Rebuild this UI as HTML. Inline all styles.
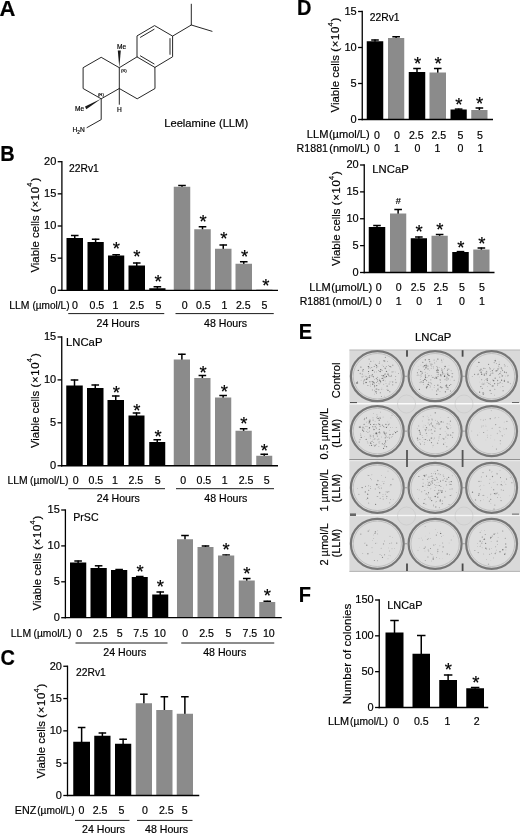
<!DOCTYPE html>
<html><head><meta charset="utf-8"><title>Figure</title>
<style>html,body{margin:0;padding:0;background:#fff}svg{display:block}text{stroke:#000;stroke-width:.18px}</style></head>
<body><svg width="520" height="834" viewBox="0 0 520 834" font-family="'Liberation Sans', sans-serif" fill="#000">
<defs><filter id="blur" x="-2%" y="-2%" width="104%" height="104%"><feGaussianBlur stdDeviation="0.55"/></filter></defs>
<rect width="520" height="834" fill="#fff"/>
<text x="-0.40" y="15.70" font-size="22" text-anchor="start" font-weight="bold">A</text>
<text transform="translate(0.2,160.7) scale(1,1.06)" font-size="20" font-weight="bold">B</text>
<text transform="translate(0.6,665.1) scale(1,1.06)" font-size="20" font-weight="bold">C</text>
<text transform="translate(297.0,14.7) scale(1,1.06)" font-size="20" font-weight="bold">D</text>
<text transform="translate(298.8,338.9) scale(1,1.06)" font-size="20" font-weight="bold">E</text>
<text transform="translate(298.8,602) scale(1,1.06)" font-size="20" font-weight="bold">F</text>
<line x1="74.75" y1="238.50" x2="74.75" y2="235.00" stroke="#000" stroke-width="1.5"/>
<line x1="70.95" y1="235.50" x2="78.55" y2="235.50" stroke="#000" stroke-width="1.5"/>
<rect x="66.50" y="238.00" width="16.50" height="52.30" fill="#000"/>
<line x1="95.62" y1="242.50" x2="95.62" y2="238.75" stroke="#000" stroke-width="1.5"/>
<line x1="91.83" y1="239.25" x2="99.42" y2="239.25" stroke="#000" stroke-width="1.5"/>
<rect x="87.50" y="242.00" width="16.25" height="48.30" fill="#000"/>
<line x1="116.12" y1="256.00" x2="116.12" y2="254.25" stroke="#000" stroke-width="1.5"/>
<line x1="112.33" y1="254.75" x2="119.92" y2="254.75" stroke="#000" stroke-width="1.5"/>
<rect x="108.00" y="255.50" width="16.25" height="34.80" fill="#000"/>
<text x="116.25" y="255.21" font-size="18.5" stroke="#000" stroke-width="0.35" text-anchor="middle">*</text>
<line x1="136.75" y1="266.00" x2="136.75" y2="262.50" stroke="#000" stroke-width="1.5"/>
<line x1="132.95" y1="263.00" x2="140.55" y2="263.00" stroke="#000" stroke-width="1.5"/>
<rect x="128.50" y="265.50" width="16.50" height="24.80" fill="#000"/>
<text x="136.75" y="262.96" font-size="18.5" stroke="#000" stroke-width="0.35" text-anchor="middle">*</text>
<line x1="157.38" y1="288.75" x2="157.38" y2="286.25" stroke="#000" stroke-width="1.5"/>
<line x1="153.57" y1="286.75" x2="161.18" y2="286.75" stroke="#000" stroke-width="1.5"/>
<rect x="149.25" y="288.25" width="16.25" height="2.05" fill="#000"/>
<text x="158.00" y="288.21" font-size="18.5" stroke="#000" stroke-width="0.35" text-anchor="middle">*</text>
<line x1="182.00" y1="187.25" x2="182.00" y2="185.00" stroke="#000" stroke-width="1.5"/>
<line x1="178.20" y1="185.50" x2="185.80" y2="185.50" stroke="#000" stroke-width="1.5"/>
<rect x="173.75" y="186.75" width="16.50" height="103.55" fill="#8b8b8b"/>
<line x1="202.50" y1="229.75" x2="202.50" y2="226.25" stroke="#000" stroke-width="1.5"/>
<line x1="198.70" y1="226.75" x2="206.30" y2="226.75" stroke="#000" stroke-width="1.5"/>
<rect x="194.25" y="229.25" width="16.50" height="61.05" fill="#8b8b8b"/>
<text x="203.00" y="228.21" font-size="18.5" stroke="#000" stroke-width="0.35" text-anchor="middle">*</text>
<line x1="223.25" y1="249.25" x2="223.25" y2="244.50" stroke="#000" stroke-width="1.5"/>
<line x1="219.45" y1="245.00" x2="227.05" y2="245.00" stroke="#000" stroke-width="1.5"/>
<rect x="215.00" y="248.75" width="16.50" height="41.55" fill="#8b8b8b"/>
<text x="223.75" y="245.21" font-size="18.5" stroke="#000" stroke-width="0.35" text-anchor="middle">*</text>
<line x1="243.75" y1="264.25" x2="243.75" y2="261.25" stroke="#000" stroke-width="1.5"/>
<line x1="239.95" y1="261.75" x2="247.55" y2="261.75" stroke="#000" stroke-width="1.5"/>
<rect x="235.50" y="263.75" width="16.50" height="26.55" fill="#8b8b8b"/>
<text x="244.50" y="263.21" font-size="18.5" stroke="#000" stroke-width="0.35" text-anchor="middle">*</text>
<rect x="256.25" y="289.60" width="16.25" height="0.70" fill="#8b8b8b"/>
<text x="265.75" y="292.21" font-size="18.5" stroke="#000" stroke-width="0.35" text-anchor="middle">*</text>
<line x1="61.90" y1="161.05" x2="61.90" y2="290.95" stroke="#000" stroke-width="1.3"/>
<line x1="61.25" y1="290.30" x2="278.00" y2="290.30" stroke="#000" stroke-width="1.3"/>
<line x1="57.70" y1="161.70" x2="61.90" y2="161.70" stroke="#000" stroke-width="1.3"/>
<text x="56.30" y="165.05" font-size="11" text-anchor="end">20</text>
<line x1="57.70" y1="193.85" x2="61.90" y2="193.85" stroke="#000" stroke-width="1.3"/>
<text x="56.30" y="197.20" font-size="11" text-anchor="end">15</text>
<line x1="57.70" y1="226.00" x2="61.90" y2="226.00" stroke="#000" stroke-width="1.3"/>
<text x="56.30" y="229.35" font-size="11" text-anchor="end">10</text>
<line x1="57.70" y1="258.15" x2="61.90" y2="258.15" stroke="#000" stroke-width="1.3"/>
<text x="56.30" y="261.50" font-size="11" text-anchor="end">5</text>
<line x1="57.70" y1="290.30" x2="61.90" y2="290.30" stroke="#000" stroke-width="1.3"/>
<text x="56.30" y="293.65" font-size="11" text-anchor="end">0</text>
<text transform="translate(38.50,225.20) rotate(-90)" font-size="11.4" text-anchor="middle">Viable cells <tspan letter-spacing="0.7">(×10</tspan><tspan dy="-6.4" dx="-0.6" font-size="7.6">4</tspan><tspan dy="6.4" dx="0.9">)</tspan></text>
<text x="69.00" y="171.50" font-size="10.3" text-anchor="start">22Rv1</text>
<text x="75.00" y="309.20" font-size="10.6" text-anchor="middle">0</text>
<text x="96.90" y="309.20" font-size="10.6" text-anchor="middle">0.5</text>
<text x="115.40" y="309.20" font-size="10.6" text-anchor="middle">1</text>
<text x="136.75" y="309.20" font-size="10.6" text-anchor="middle">2.5</text>
<text x="158.40" y="309.20" font-size="10.6" text-anchor="middle">5</text>
<text x="184.80" y="309.20" font-size="10.6" text-anchor="middle">0</text>
<text x="203.40" y="309.20" font-size="10.6" text-anchor="middle">0.5</text>
<text x="224.50" y="309.20" font-size="10.6" text-anchor="middle">1</text>
<text x="243.25" y="309.20" font-size="10.6" text-anchor="middle">2.5</text>
<text x="264.50" y="309.20" font-size="10.6" text-anchor="middle">5</text>
<text x="9.30" y="309.10" font-size="10.6" textLength="20.25" lengthAdjust="spacingAndGlyphs">LLM</text>
<text x="32.40" y="309.10" font-size="10.6" textLength="37.15" lengthAdjust="spacingAndGlyphs">(µmol/L)</text>
<line x1="68.25" y1="313.60" x2="164.25" y2="313.60" stroke="#000" stroke-width="0.9"/>
<line x1="175.50" y1="313.60" x2="273.75" y2="313.60" stroke="#000" stroke-width="0.9"/>
<text x="118.00" y="326.80" font-size="10.6" text-anchor="middle">24 Hours</text>
<text x="225.50" y="326.80" font-size="10.6" text-anchor="middle">48 Hours</text>
<line x1="74.50" y1="386.00" x2="74.50" y2="379.50" stroke="#000" stroke-width="1.5"/>
<line x1="70.70" y1="380.00" x2="78.30" y2="380.00" stroke="#000" stroke-width="1.5"/>
<rect x="66.25" y="385.50" width="16.50" height="80.25" fill="#000"/>
<line x1="95.25" y1="388.50" x2="95.25" y2="384.50" stroke="#000" stroke-width="1.5"/>
<line x1="91.45" y1="385.00" x2="99.05" y2="385.00" stroke="#000" stroke-width="1.5"/>
<rect x="87.00" y="388.00" width="16.50" height="77.75" fill="#000"/>
<line x1="115.75" y1="400.50" x2="115.75" y2="395.50" stroke="#000" stroke-width="1.5"/>
<line x1="111.95" y1="396.00" x2="119.55" y2="396.00" stroke="#000" stroke-width="1.5"/>
<rect x="107.50" y="400.00" width="16.50" height="65.75" fill="#000"/>
<text x="116.25" y="399.21" font-size="18.5" stroke="#000" stroke-width="0.35" text-anchor="middle">*</text>
<line x1="136.50" y1="416.00" x2="136.50" y2="412.50" stroke="#000" stroke-width="1.5"/>
<line x1="132.70" y1="413.00" x2="140.30" y2="413.00" stroke="#000" stroke-width="1.5"/>
<rect x="128.50" y="415.50" width="16.00" height="50.25" fill="#000"/>
<text x="136.75" y="416.71" font-size="18.5" stroke="#000" stroke-width="0.35" text-anchor="middle">*</text>
<line x1="157.25" y1="442.50" x2="157.25" y2="439.25" stroke="#000" stroke-width="1.5"/>
<line x1="153.45" y1="439.75" x2="161.05" y2="439.75" stroke="#000" stroke-width="1.5"/>
<rect x="149.25" y="442.00" width="16.00" height="23.75" fill="#000"/>
<text x="158.00" y="442.96" font-size="18.5" stroke="#000" stroke-width="0.35" text-anchor="middle">*</text>
<line x1="181.88" y1="360.00" x2="181.88" y2="353.75" stroke="#000" stroke-width="1.5"/>
<line x1="178.07" y1="354.25" x2="185.68" y2="354.25" stroke="#000" stroke-width="1.5"/>
<rect x="173.75" y="359.50" width="16.25" height="106.25" fill="#8b8b8b"/>
<line x1="202.38" y1="378.50" x2="202.38" y2="375.00" stroke="#000" stroke-width="1.5"/>
<line x1="198.57" y1="375.50" x2="206.18" y2="375.50" stroke="#000" stroke-width="1.5"/>
<rect x="194.25" y="378.00" width="16.25" height="87.75" fill="#8b8b8b"/>
<text x="203.00" y="378.71" font-size="18.5" stroke="#000" stroke-width="0.35" text-anchor="middle">*</text>
<line x1="223.12" y1="398.00" x2="223.12" y2="395.00" stroke="#000" stroke-width="1.5"/>
<line x1="219.32" y1="395.50" x2="226.93" y2="395.50" stroke="#000" stroke-width="1.5"/>
<rect x="215.00" y="397.50" width="16.25" height="68.25" fill="#8b8b8b"/>
<text x="224.25" y="398.21" font-size="18.5" stroke="#000" stroke-width="0.35" text-anchor="middle">*</text>
<line x1="243.62" y1="431.25" x2="243.62" y2="428.25" stroke="#000" stroke-width="1.5"/>
<line x1="239.82" y1="428.75" x2="247.43" y2="428.75" stroke="#000" stroke-width="1.5"/>
<rect x="235.50" y="430.75" width="16.25" height="35.00" fill="#8b8b8b"/>
<text x="243.75" y="430.46" font-size="18.5" stroke="#000" stroke-width="0.35" text-anchor="middle">*</text>
<line x1="264.25" y1="456.25" x2="264.25" y2="453.75" stroke="#000" stroke-width="1.5"/>
<line x1="260.45" y1="454.25" x2="268.05" y2="454.25" stroke="#000" stroke-width="1.5"/>
<rect x="256.25" y="455.75" width="16.00" height="10.00" fill="#8b8b8b"/>
<text x="264.25" y="456.71" font-size="18.5" stroke="#000" stroke-width="0.35" text-anchor="middle">*</text>
<line x1="61.75" y1="336.35" x2="61.75" y2="466.40" stroke="#000" stroke-width="1.3"/>
<line x1="61.10" y1="465.75" x2="278.00" y2="465.75" stroke="#000" stroke-width="1.3"/>
<line x1="57.55" y1="337.00" x2="61.75" y2="337.00" stroke="#000" stroke-width="1.3"/>
<text x="56.15" y="340.35" font-size="11" text-anchor="end">15</text>
<line x1="57.55" y1="379.90" x2="61.75" y2="379.90" stroke="#000" stroke-width="1.3"/>
<text x="56.15" y="383.25" font-size="11" text-anchor="end">10</text>
<line x1="57.55" y1="422.80" x2="61.75" y2="422.80" stroke="#000" stroke-width="1.3"/>
<text x="56.15" y="426.15" font-size="11" text-anchor="end">5</text>
<line x1="57.55" y1="465.75" x2="61.75" y2="465.75" stroke="#000" stroke-width="1.3"/>
<text x="56.15" y="469.10" font-size="11" text-anchor="end">0</text>
<text transform="translate(38.50,400.70) rotate(-90)" font-size="11.4" text-anchor="middle">Viable cells <tspan letter-spacing="0.7">(×10</tspan><tspan dy="-6.4" dx="-0.6" font-size="7.6">4</tspan><tspan dy="6.4" dx="0.9">)</tspan></text>
<text x="66.00" y="345.60" font-size="11.3" text-anchor="start">LNCaP</text>
<text x="75.60" y="483.90" font-size="10.6" text-anchor="middle">0</text>
<text x="95.90" y="483.90" font-size="10.6" text-anchor="middle">0.5</text>
<text x="114.90" y="483.90" font-size="10.6" text-anchor="middle">1</text>
<text x="135.80" y="483.90" font-size="10.6" text-anchor="middle">2.5</text>
<text x="157.60" y="483.90" font-size="10.6" text-anchor="middle">5</text>
<text x="183.30" y="483.90" font-size="10.6" text-anchor="middle">0</text>
<text x="203.90" y="483.90" font-size="10.6" text-anchor="middle">0.5</text>
<text x="224.70" y="483.90" font-size="10.6" text-anchor="middle">1</text>
<text x="246.10" y="483.90" font-size="10.6" text-anchor="middle">2.5</text>
<text x="266.80" y="483.90" font-size="10.6" text-anchor="middle">5</text>
<text x="7.40" y="483.90" font-size="10.6" textLength="20.20" lengthAdjust="spacingAndGlyphs">LLM</text>
<text x="30.10" y="483.90" font-size="10.6" textLength="38.30" lengthAdjust="spacingAndGlyphs">(µmol/L)</text>
<line x1="68.40" y1="488.70" x2="165.00" y2="488.70" stroke="#000" stroke-width="0.9"/>
<line x1="176.00" y1="488.70" x2="274.00" y2="488.70" stroke="#000" stroke-width="0.9"/>
<text x="118.30" y="501.80" font-size="10.6" text-anchor="middle">24 Hours</text>
<text x="225.80" y="501.80" font-size="10.6" text-anchor="middle">48 Hours</text>
<line x1="78.12" y1="563.00" x2="78.12" y2="560.50" stroke="#000" stroke-width="1.5"/>
<line x1="74.33" y1="561.00" x2="81.92" y2="561.00" stroke="#000" stroke-width="1.5"/>
<rect x="70.00" y="562.50" width="16.25" height="55.20" fill="#000"/>
<line x1="98.62" y1="568.50" x2="98.62" y2="565.30" stroke="#000" stroke-width="1.5"/>
<line x1="94.83" y1="565.80" x2="102.42" y2="565.80" stroke="#000" stroke-width="1.5"/>
<rect x="90.50" y="568.00" width="16.25" height="49.70" fill="#000"/>
<line x1="119.12" y1="570.50" x2="119.12" y2="569.00" stroke="#000" stroke-width="1.5"/>
<line x1="115.33" y1="569.50" x2="122.92" y2="569.50" stroke="#000" stroke-width="1.5"/>
<rect x="111.00" y="570.00" width="16.25" height="47.70" fill="#000"/>
<line x1="139.75" y1="577.50" x2="139.75" y2="576.00" stroke="#000" stroke-width="1.5"/>
<line x1="135.95" y1="576.50" x2="143.55" y2="576.50" stroke="#000" stroke-width="1.5"/>
<rect x="131.75" y="577.00" width="16.00" height="40.70" fill="#000"/>
<text x="140.00" y="577.96" font-size="18.5" stroke="#000" stroke-width="0.35" text-anchor="middle">*</text>
<line x1="160.25" y1="595.00" x2="160.25" y2="591.50" stroke="#000" stroke-width="1.5"/>
<line x1="156.45" y1="592.00" x2="164.05" y2="592.00" stroke="#000" stroke-width="1.5"/>
<rect x="152.25" y="594.50" width="16.00" height="23.20" fill="#000"/>
<text x="160.25" y="592.96" font-size="18.5" stroke="#000" stroke-width="0.35" text-anchor="middle">*</text>
<line x1="185.00" y1="539.75" x2="185.00" y2="535.00" stroke="#000" stroke-width="1.5"/>
<line x1="181.20" y1="535.50" x2="188.80" y2="535.50" stroke="#000" stroke-width="1.5"/>
<rect x="177.00" y="539.25" width="16.00" height="78.45" fill="#8b8b8b"/>
<line x1="205.50" y1="547.50" x2="205.50" y2="545.50" stroke="#000" stroke-width="1.5"/>
<line x1="201.70" y1="546.00" x2="209.30" y2="546.00" stroke="#000" stroke-width="1.5"/>
<rect x="197.50" y="547.00" width="16.00" height="70.70" fill="#8b8b8b"/>
<line x1="226.12" y1="556.00" x2="226.12" y2="554.50" stroke="#000" stroke-width="1.5"/>
<line x1="222.32" y1="555.00" x2="229.93" y2="555.00" stroke="#000" stroke-width="1.5"/>
<rect x="218.00" y="555.50" width="16.25" height="62.20" fill="#8b8b8b"/>
<text x="226.00" y="556.21" font-size="18.5" stroke="#000" stroke-width="0.35" text-anchor="middle">*</text>
<line x1="246.75" y1="581.00" x2="246.75" y2="578.00" stroke="#000" stroke-width="1.5"/>
<line x1="242.95" y1="578.50" x2="250.55" y2="578.50" stroke="#000" stroke-width="1.5"/>
<rect x="238.75" y="580.50" width="16.00" height="37.20" fill="#8b8b8b"/>
<text x="246.75" y="579.96" font-size="18.5" stroke="#000" stroke-width="0.35" text-anchor="middle">*</text>
<line x1="267.25" y1="602.50" x2="267.25" y2="600.75" stroke="#000" stroke-width="1.5"/>
<line x1="263.45" y1="601.25" x2="271.05" y2="601.25" stroke="#000" stroke-width="1.5"/>
<rect x="259.25" y="602.00" width="16.00" height="15.70" fill="#8b8b8b"/>
<text x="267.25" y="602.21" font-size="18.5" stroke="#000" stroke-width="0.35" text-anchor="middle">*</text>
<line x1="65.40" y1="509.35" x2="65.40" y2="618.35" stroke="#000" stroke-width="1.3"/>
<line x1="64.75" y1="617.70" x2="281.75" y2="617.70" stroke="#000" stroke-width="1.3"/>
<line x1="61.20" y1="510.00" x2="65.40" y2="510.00" stroke="#000" stroke-width="1.3"/>
<text x="59.80" y="513.35" font-size="11" text-anchor="end">15</text>
<line x1="61.20" y1="545.90" x2="65.40" y2="545.90" stroke="#000" stroke-width="1.3"/>
<text x="59.80" y="549.25" font-size="11" text-anchor="end">10</text>
<line x1="61.20" y1="581.80" x2="65.40" y2="581.80" stroke="#000" stroke-width="1.3"/>
<text x="59.80" y="585.15" font-size="11" text-anchor="end">5</text>
<line x1="61.20" y1="617.70" x2="65.40" y2="617.70" stroke="#000" stroke-width="1.3"/>
<text x="59.80" y="621.05" font-size="11" text-anchor="end">0</text>
<text transform="translate(41.00,563.00) rotate(-90)" font-size="11.4" text-anchor="middle">Viable cells <tspan letter-spacing="0.7">(×10</tspan><tspan dy="-6.4" dx="-0.6" font-size="7.6">4</tspan><tspan dy="6.4" dx="0.9">)</tspan></text>
<text x="73.25" y="521.25" font-size="10.6" text-anchor="start">PrSC</text>
<text x="79.30" y="636.85" font-size="10.6" text-anchor="middle">0</text>
<text x="100.40" y="636.85" font-size="10.6" text-anchor="middle">2.5</text>
<text x="119.80" y="636.85" font-size="10.6" text-anchor="middle">5</text>
<text x="140.70" y="636.85" font-size="10.6" text-anchor="middle">7.5</text>
<text x="160.00" y="636.85" font-size="10.6" text-anchor="middle">10</text>
<text x="185.20" y="636.85" font-size="10.6" text-anchor="middle">0</text>
<text x="206.50" y="636.85" font-size="10.6" text-anchor="middle">2.5</text>
<text x="228.40" y="636.85" font-size="10.6" text-anchor="middle">5</text>
<text x="249.90" y="636.85" font-size="10.6" text-anchor="middle">7.5</text>
<text x="268.80" y="636.85" font-size="10.6" text-anchor="middle">10</text>
<text x="10.80" y="636.80" font-size="10.6" textLength="20.30" lengthAdjust="spacingAndGlyphs">LLM</text>
<text x="33.50" y="636.80" font-size="10.6" textLength="38.00" lengthAdjust="spacingAndGlyphs">(µmol/L)</text>
<line x1="75.50" y1="643.00" x2="167.50" y2="643.00" stroke="#000" stroke-width="0.9"/>
<line x1="181.25" y1="643.00" x2="274.25" y2="643.00" stroke="#000" stroke-width="0.9"/>
<text x="124.80" y="655.50" font-size="10.6" text-anchor="middle">24 Hours</text>
<text x="224.70" y="655.50" font-size="10.6" text-anchor="middle">48 Hours</text>
<line x1="81.62" y1="742.25" x2="81.62" y2="727.00" stroke="#000" stroke-width="1.5"/>
<line x1="77.83" y1="727.50" x2="85.42" y2="727.50" stroke="#000" stroke-width="1.5"/>
<rect x="73.25" y="741.75" width="16.75" height="53.75" fill="#000"/>
<line x1="102.38" y1="736.25" x2="102.38" y2="732.50" stroke="#000" stroke-width="1.5"/>
<line x1="98.58" y1="733.00" x2="106.17" y2="733.00" stroke="#000" stroke-width="1.5"/>
<rect x="94.25" y="735.75" width="16.25" height="59.75" fill="#000"/>
<line x1="123.12" y1="744.25" x2="123.12" y2="738.75" stroke="#000" stroke-width="1.5"/>
<line x1="119.33" y1="739.25" x2="126.92" y2="739.25" stroke="#000" stroke-width="1.5"/>
<rect x="115.00" y="743.75" width="16.25" height="51.75" fill="#000"/>
<line x1="143.88" y1="703.75" x2="143.88" y2="693.75" stroke="#000" stroke-width="1.5"/>
<line x1="140.07" y1="694.25" x2="147.68" y2="694.25" stroke="#000" stroke-width="1.5"/>
<rect x="135.75" y="703.25" width="16.25" height="92.25" fill="#8b8b8b"/>
<line x1="164.38" y1="710.50" x2="164.38" y2="696.25" stroke="#000" stroke-width="1.5"/>
<line x1="160.57" y1="696.75" x2="168.18" y2="696.75" stroke="#000" stroke-width="1.5"/>
<rect x="156.25" y="710.00" width="16.25" height="85.50" fill="#8b8b8b"/>
<line x1="184.88" y1="714.25" x2="184.88" y2="696.25" stroke="#000" stroke-width="1.5"/>
<line x1="181.07" y1="696.75" x2="188.68" y2="696.75" stroke="#000" stroke-width="1.5"/>
<rect x="176.75" y="713.75" width="16.25" height="81.75" fill="#8b8b8b"/>
<line x1="67.50" y1="665.60" x2="67.50" y2="796.15" stroke="#000" stroke-width="1.3"/>
<line x1="66.85" y1="795.50" x2="199.25" y2="795.50" stroke="#000" stroke-width="1.3"/>
<line x1="63.30" y1="666.25" x2="67.50" y2="666.25" stroke="#000" stroke-width="1.3"/>
<text x="61.90" y="669.60" font-size="11" text-anchor="end">20</text>
<line x1="63.30" y1="698.55" x2="67.50" y2="698.55" stroke="#000" stroke-width="1.3"/>
<text x="61.90" y="701.90" font-size="11" text-anchor="end">15</text>
<line x1="63.30" y1="730.85" x2="67.50" y2="730.85" stroke="#000" stroke-width="1.3"/>
<text x="61.90" y="734.20" font-size="11" text-anchor="end">10</text>
<line x1="63.30" y1="763.15" x2="67.50" y2="763.15" stroke="#000" stroke-width="1.3"/>
<text x="61.90" y="766.50" font-size="11" text-anchor="end">5</text>
<line x1="63.30" y1="795.50" x2="67.50" y2="795.50" stroke="#000" stroke-width="1.3"/>
<text x="61.90" y="798.85" font-size="11" text-anchor="end">0</text>
<text transform="translate(44.90,731.00) rotate(-90)" font-size="11.4" text-anchor="middle">Viable cells <tspan letter-spacing="0.7">(×10</tspan><tspan dy="-6.4" dx="-0.6" font-size="7.6">4</tspan><tspan dy="6.4" dx="0.9">)</tspan></text>
<text x="76.00" y="676.40" font-size="10.3" text-anchor="start">22Rv1</text>
<text x="81.40" y="813.70" font-size="10.6" text-anchor="middle">0</text>
<text x="100.00" y="813.70" font-size="10.6" text-anchor="middle">2.5</text>
<text x="121.50" y="813.70" font-size="10.6" text-anchor="middle">5</text>
<text x="144.90" y="813.70" font-size="10.6" text-anchor="middle">0</text>
<text x="166.30" y="813.70" font-size="10.6" text-anchor="middle">2.5</text>
<text x="184.70" y="813.70" font-size="10.6" text-anchor="middle">5</text>
<text x="14.70" y="813.60" font-size="10.6" textLength="21.60" lengthAdjust="spacingAndGlyphs">ENZ</text>
<text x="37.20" y="813.60" font-size="10.6" textLength="37.50" lengthAdjust="spacingAndGlyphs">(µmol/L)</text>
<line x1="75.00" y1="820.40" x2="129.50" y2="820.40" stroke="#000" stroke-width="0.9"/>
<line x1="137.00" y1="820.40" x2="192.50" y2="820.40" stroke="#000" stroke-width="0.9"/>
<text x="103.50" y="833.00" font-size="10.6" text-anchor="middle">24 Hours</text>
<text x="166.50" y="833.00" font-size="10.6" text-anchor="middle">48 Hours</text>
<line x1="375.00" y1="41.75" x2="375.00" y2="39.50" stroke="#000" stroke-width="1.5"/>
<line x1="371.20" y1="40.00" x2="378.80" y2="40.00" stroke="#000" stroke-width="1.5"/>
<rect x="366.75" y="41.25" width="16.50" height="78.25" fill="#000"/>
<line x1="396.12" y1="38.50" x2="396.12" y2="36.25" stroke="#000" stroke-width="1.5"/>
<line x1="392.32" y1="36.75" x2="399.93" y2="36.75" stroke="#000" stroke-width="1.5"/>
<rect x="388.00" y="38.00" width="16.25" height="81.50" fill="#8b8b8b"/>
<line x1="417.00" y1="72.50" x2="417.00" y2="68.00" stroke="#000" stroke-width="1.5"/>
<line x1="413.20" y1="68.50" x2="420.80" y2="68.50" stroke="#000" stroke-width="1.5"/>
<rect x="408.75" y="72.00" width="16.50" height="47.50" fill="#000"/>
<text x="417.50" y="69.96" font-size="18.5" stroke="#000" stroke-width="0.35" text-anchor="middle">*</text>
<line x1="437.75" y1="73.00" x2="437.75" y2="68.00" stroke="#000" stroke-width="1.5"/>
<line x1="433.95" y1="68.50" x2="441.55" y2="68.50" stroke="#000" stroke-width="1.5"/>
<rect x="429.50" y="72.50" width="16.50" height="47.00" fill="#8b8b8b"/>
<text x="438.00" y="69.96" font-size="18.5" stroke="#000" stroke-width="0.35" text-anchor="middle">*</text>
<line x1="458.62" y1="110.00" x2="458.62" y2="108.60" stroke="#000" stroke-width="1.5"/>
<line x1="454.82" y1="109.10" x2="462.43" y2="109.10" stroke="#000" stroke-width="1.5"/>
<rect x="450.50" y="109.50" width="16.25" height="10.00" fill="#000"/>
<text x="458.75" y="110.96" font-size="18.5" stroke="#000" stroke-width="0.35" text-anchor="middle">*</text>
<line x1="479.38" y1="110.50" x2="479.38" y2="107.50" stroke="#000" stroke-width="1.5"/>
<line x1="475.57" y1="108.00" x2="483.18" y2="108.00" stroke="#000" stroke-width="1.5"/>
<rect x="471.25" y="110.00" width="16.25" height="9.50" fill="#8b8b8b"/>
<text x="479.50" y="109.96" font-size="18.5" stroke="#000" stroke-width="0.35" text-anchor="middle">*</text>
<line x1="362.25" y1="10.85" x2="362.25" y2="120.15" stroke="#000" stroke-width="1.3"/>
<line x1="361.60" y1="119.50" x2="493.00" y2="119.50" stroke="#000" stroke-width="1.3"/>
<line x1="358.05" y1="11.50" x2="362.25" y2="11.50" stroke="#000" stroke-width="1.3"/>
<text x="356.65" y="14.85" font-size="11" text-anchor="end">15</text>
<line x1="358.05" y1="47.50" x2="362.25" y2="47.50" stroke="#000" stroke-width="1.3"/>
<text x="356.65" y="50.85" font-size="11" text-anchor="end">10</text>
<line x1="358.05" y1="83.50" x2="362.25" y2="83.50" stroke="#000" stroke-width="1.3"/>
<text x="356.65" y="86.85" font-size="11" text-anchor="end">5</text>
<line x1="358.05" y1="119.50" x2="362.25" y2="119.50" stroke="#000" stroke-width="1.3"/>
<text x="356.65" y="122.85" font-size="11" text-anchor="end">0</text>
<text transform="translate(339.00,65.00) rotate(-90)" font-size="11.4" text-anchor="middle">Viable cells <tspan letter-spacing="0.7">(×10</tspan><tspan dy="-6.4" dx="-0.6" font-size="7.6">4</tspan><tspan dy="6.4" dx="0.9">)</tspan></text>
<text x="369.80" y="21.40" font-size="10.3" text-anchor="start">22Rv1</text>
<text x="377.00" y="138.50" font-size="10.6" text-anchor="middle">0</text>
<text x="397.00" y="138.50" font-size="10.6" text-anchor="middle">0</text>
<text x="416.25" y="138.50" font-size="10.6" text-anchor="middle">2.5</text>
<text x="438.75" y="138.50" font-size="10.6" text-anchor="middle">2.5</text>
<text x="460.50" y="138.50" font-size="10.6" text-anchor="middle">5</text>
<text x="480.00" y="138.50" font-size="10.6" text-anchor="middle">5</text>
<text x="377.00" y="152.00" font-size="10.6" text-anchor="middle">0</text>
<text x="397.00" y="152.00" font-size="10.6" text-anchor="middle">1</text>
<text x="417.50" y="152.00" font-size="10.6" text-anchor="middle">0</text>
<text x="437.50" y="152.00" font-size="10.6" text-anchor="middle">1</text>
<text x="460.50" y="152.00" font-size="10.6" text-anchor="middle">0</text>
<text x="480.50" y="152.00" font-size="10.6" text-anchor="middle">1</text>
<text x="306.80" y="138.20" font-size="11" textLength="21.60" lengthAdjust="spacingAndGlyphs">LLM</text>
<text x="328.90" y="138.20" font-size="11" textLength="40.80" lengthAdjust="spacingAndGlyphs">(µmol/L)</text>
<text x="296.60" y="151.90" font-size="10.6" textLength="31.40" lengthAdjust="spacingAndGlyphs">R1881</text>
<text x="329.30" y="151.90" font-size="10.6" textLength="40.40" lengthAdjust="spacingAndGlyphs">(nmol/L)</text>
<line x1="377.00" y1="227.50" x2="377.00" y2="225.00" stroke="#000" stroke-width="1.5"/>
<line x1="373.20" y1="225.50" x2="380.80" y2="225.50" stroke="#000" stroke-width="1.5"/>
<rect x="368.75" y="227.00" width="16.50" height="45.50" fill="#000"/>
<line x1="398.12" y1="214.00" x2="398.12" y2="209.00" stroke="#000" stroke-width="1.5"/>
<line x1="394.32" y1="209.50" x2="401.93" y2="209.50" stroke="#000" stroke-width="1.5"/>
<rect x="390.00" y="213.50" width="16.25" height="59.00" fill="#8b8b8b"/>
<text x="398.25" y="204.45" font-size="9.2" text-anchor="middle">#</text>
<line x1="418.88" y1="238.75" x2="418.88" y2="236.50" stroke="#000" stroke-width="1.5"/>
<line x1="415.07" y1="237.00" x2="422.68" y2="237.00" stroke="#000" stroke-width="1.5"/>
<rect x="410.75" y="238.25" width="16.25" height="34.25" fill="#000"/>
<text x="419.00" y="238.46" font-size="18.5" stroke="#000" stroke-width="0.35" text-anchor="middle">*</text>
<line x1="439.62" y1="236.25" x2="439.62" y2="234.00" stroke="#000" stroke-width="1.5"/>
<line x1="435.82" y1="234.50" x2="443.43" y2="234.50" stroke="#000" stroke-width="1.5"/>
<rect x="431.50" y="235.75" width="16.25" height="36.75" fill="#8b8b8b"/>
<text x="439.75" y="236.21" font-size="18.5" stroke="#000" stroke-width="0.35" text-anchor="middle">*</text>
<line x1="460.50" y1="252.50" x2="460.50" y2="251.10" stroke="#000" stroke-width="1.5"/>
<line x1="456.70" y1="251.60" x2="464.30" y2="251.60" stroke="#000" stroke-width="1.5"/>
<rect x="452.25" y="252.00" width="16.50" height="20.50" fill="#000"/>
<text x="460.75" y="254.21" font-size="18.5" stroke="#000" stroke-width="0.35" text-anchor="middle">*</text>
<line x1="481.38" y1="250.00" x2="481.38" y2="247.50" stroke="#000" stroke-width="1.5"/>
<line x1="477.57" y1="248.00" x2="485.18" y2="248.00" stroke="#000" stroke-width="1.5"/>
<rect x="473.25" y="249.50" width="16.25" height="23.00" fill="#8b8b8b"/>
<text x="481.75" y="250.46" font-size="18.5" stroke="#000" stroke-width="0.35" text-anchor="middle">*</text>
<line x1="364.25" y1="164.35" x2="364.25" y2="273.15" stroke="#000" stroke-width="1.3"/>
<line x1="363.60" y1="272.50" x2="494.50" y2="272.50" stroke="#000" stroke-width="1.3"/>
<line x1="360.05" y1="165.00" x2="364.25" y2="165.00" stroke="#000" stroke-width="1.3"/>
<text x="358.65" y="168.35" font-size="11" text-anchor="end">20</text>
<line x1="360.05" y1="191.88" x2="364.25" y2="191.88" stroke="#000" stroke-width="1.3"/>
<text x="358.65" y="195.22" font-size="11" text-anchor="end">15</text>
<line x1="360.05" y1="218.75" x2="364.25" y2="218.75" stroke="#000" stroke-width="1.3"/>
<text x="358.65" y="222.10" font-size="11" text-anchor="end">10</text>
<line x1="360.05" y1="245.62" x2="364.25" y2="245.62" stroke="#000" stroke-width="1.3"/>
<text x="358.65" y="248.97" font-size="11" text-anchor="end">5</text>
<line x1="360.05" y1="272.50" x2="364.25" y2="272.50" stroke="#000" stroke-width="1.3"/>
<text x="358.65" y="275.85" font-size="11" text-anchor="end">0</text>
<text transform="translate(340.30,218.50) rotate(-90)" font-size="11.4" text-anchor="middle">Viable cells <tspan letter-spacing="0.7">(×10</tspan><tspan dy="-6.4" dx="-0.6" font-size="7.6">4</tspan><tspan dy="6.4" dx="0.9">)</tspan></text>
<text x="372.30" y="172.60" font-size="11.3" text-anchor="start">LNCaP</text>
<text x="378.75" y="290.50" font-size="10.6" text-anchor="middle">0</text>
<text x="398.75" y="290.50" font-size="10.6" text-anchor="middle">0</text>
<text x="418.00" y="290.50" font-size="10.6" text-anchor="middle">2.5</text>
<text x="440.75" y="290.50" font-size="10.6" text-anchor="middle">2.5</text>
<text x="462.00" y="290.50" font-size="10.6" text-anchor="middle">5</text>
<text x="482.00" y="290.50" font-size="10.6" text-anchor="middle">5</text>
<text x="378.75" y="304.70" font-size="10.6" text-anchor="middle">0</text>
<text x="398.75" y="304.70" font-size="10.6" text-anchor="middle">1</text>
<text x="419.25" y="304.70" font-size="10.6" text-anchor="middle">0</text>
<text x="439.50" y="304.70" font-size="10.6" text-anchor="middle">1</text>
<text x="462.00" y="304.70" font-size="10.6" text-anchor="middle">0</text>
<text x="482.00" y="304.70" font-size="10.6" text-anchor="middle">1</text>
<text x="309.30" y="290.50" font-size="11" textLength="21.40" lengthAdjust="spacingAndGlyphs">LLM</text>
<text x="331.20" y="290.50" font-size="11" textLength="41.00" lengthAdjust="spacingAndGlyphs">(µmol/L)</text>
<text x="299.70" y="304.60" font-size="10.6" textLength="31.00" lengthAdjust="spacingAndGlyphs">R1881</text>
<text x="332.20" y="304.60" font-size="10.6" textLength="40.00" lengthAdjust="spacingAndGlyphs">(nmol/L)</text>
<line x1="394.50" y1="633.00" x2="394.50" y2="620.00" stroke="#000" stroke-width="1.5"/>
<line x1="390.25" y1="620.50" x2="398.75" y2="620.50" stroke="#000" stroke-width="1.5"/>
<rect x="385.50" y="632.50" width="18.00" height="75.00" fill="#000"/>
<line x1="421.25" y1="654.25" x2="421.25" y2="635.00" stroke="#000" stroke-width="1.5"/>
<line x1="417.00" y1="635.50" x2="425.50" y2="635.50" stroke="#000" stroke-width="1.5"/>
<rect x="412.50" y="653.75" width="17.50" height="53.75" fill="#000"/>
<line x1="448.12" y1="680.50" x2="448.12" y2="674.50" stroke="#000" stroke-width="1.5"/>
<line x1="443.88" y1="675.00" x2="452.38" y2="675.00" stroke="#000" stroke-width="1.5"/>
<rect x="439.25" y="680.00" width="17.75" height="27.50" fill="#000"/>
<text x="448.25" y="675.96" font-size="18.5" stroke="#000" stroke-width="0.35" text-anchor="middle">*</text>
<line x1="475.12" y1="688.75" x2="475.12" y2="687.00" stroke="#000" stroke-width="1.5"/>
<line x1="470.88" y1="687.50" x2="479.38" y2="687.50" stroke="#000" stroke-width="1.5"/>
<rect x="466.25" y="688.25" width="17.75" height="19.25" fill="#000"/>
<text x="475.75" y="688.71" font-size="18.5" stroke="#000" stroke-width="0.35" text-anchor="middle">*</text>
<line x1="379.25" y1="599.35" x2="379.25" y2="708.15" stroke="#000" stroke-width="1.3"/>
<line x1="378.60" y1="707.50" x2="488.25" y2="707.50" stroke="#000" stroke-width="1.3"/>
<line x1="375.05" y1="600.00" x2="379.25" y2="600.00" stroke="#000" stroke-width="1.3"/>
<text x="373.65" y="603.35" font-size="11" text-anchor="end">150</text>
<line x1="375.05" y1="635.83" x2="379.25" y2="635.83" stroke="#000" stroke-width="1.3"/>
<text x="373.65" y="639.18" font-size="11" text-anchor="end">100</text>
<line x1="375.05" y1="671.66" x2="379.25" y2="671.66" stroke="#000" stroke-width="1.3"/>
<text x="373.65" y="675.01" font-size="11" text-anchor="end">50</text>
<line x1="375.05" y1="707.50" x2="379.25" y2="707.50" stroke="#000" stroke-width="1.3"/>
<text x="373.65" y="710.85" font-size="11" text-anchor="end">0</text>
<text transform="translate(350.50,654.00) rotate(-90)" font-size="11.7" text-anchor="middle">Number of colonies</text>
<text x="387.30" y="608.90" font-size="10.9" text-anchor="start">LNCaP</text>
<text x="396.25" y="725.00" font-size="10.6" text-anchor="middle">0</text>
<text x="421.25" y="725.00" font-size="10.6" text-anchor="middle">0.5</text>
<text x="447.50" y="725.00" font-size="10.6" text-anchor="middle">1</text>
<text x="476.70" y="725.00" font-size="10.6" text-anchor="middle">2</text>
<text x="328.00" y="725.30" font-size="10.6" textLength="21.20" lengthAdjust="spacingAndGlyphs">LLM</text>
<text x="350.10" y="725.30" font-size="10.6" textLength="37.90" lengthAdjust="spacingAndGlyphs">(µmol/L)</text>
<text x="433.20" y="340.60" font-size="11.3" text-anchor="middle">LNCaP</text>
<text transform="translate(340.20,380.40) rotate(-90)" font-size="11" text-anchor="middle">Control</text>
<text transform="translate(328.40,433.70) rotate(-90)" font-size="11" text-anchor="middle">0.5 µmol/L</text>
<text transform="translate(340.20,433.30) rotate(-90)" font-size="11" text-anchor="middle">(LLM)</text>
<text transform="translate(328.40,490.40) rotate(-90)" font-size="11" text-anchor="middle">1 µmol/L</text>
<text transform="translate(340.20,488.10) rotate(-90)" font-size="11" text-anchor="middle">(LLM)</text>
<text transform="translate(328.40,544.40) rotate(-90)" font-size="11" text-anchor="middle">2 µmol/L</text>
<text transform="translate(340.20,543.10) rotate(-90)" font-size="11" text-anchor="middle">(LLM)</text>
<g filter="url(#blur)">
<rect x="349.4" y="349.6" width="172" height="222.2" fill="#d9d9d9"/>
<rect x="349.4" y="403.0" width="172" height="1.5" fill="#fbfbfb"/>
<rect x="349.4" y="459.1" width="172" height="0.9" fill="#8a8a8a"/>
<rect x="349.4" y="460.2" width="172" height="1.0" fill="#ececec"/>
<rect x="349.4" y="514.8" width="172" height="1.4" fill="#f6f6f6"/>
<rect x="349.4" y="349.6" width="172" height="0.9" fill="#b8b8b8"/>
<rect x="349.4" y="570.9" width="172" height="0.9" fill="#b0b0b0"/>
<circle cx="406.5" cy="404" r="9" fill="none" stroke="#c6c6c6" stroke-width="0.6"/>
<circle cx="464" cy="404" r="9" fill="none" stroke="#c6c6c6" stroke-width="0.6"/>
<circle cx="406.5" cy="516" r="9" fill="none" stroke="#c6c6c6" stroke-width="0.6"/>
<circle cx="464" cy="516" r="9" fill="none" stroke="#c6c6c6" stroke-width="0.6"/>
<ellipse cx="377.3" cy="376.2" rx="26.4" ry="25.0" fill="#dedede" stroke="#767676" stroke-width="2.2"/>
<ellipse cx="377.3" cy="376.2" rx="24.099999999999998" ry="22.7" fill="none" stroke="#b0b0b0" stroke-width="0.7"/>
<circle cx="373.9" cy="382.7" r="0.31" fill="rgb(136,136,136)"/>
<circle cx="374.3" cy="379.4" r="0.30" fill="rgb(128,128,128)"/>
<circle cx="382.2" cy="378.4" r="0.63" fill="rgb(103,103,103)"/>
<circle cx="380.3" cy="392.8" r="0.52" fill="rgb(125,125,125)"/>
<circle cx="381.9" cy="375.5" r="0.40" fill="rgb(105,105,105)"/>
<circle cx="386.0" cy="383.7" r="0.36" fill="rgb(140,140,140)"/>
<circle cx="369.9" cy="367.8" r="0.31" fill="rgb(98,98,98)"/>
<circle cx="381.3" cy="389.7" r="0.41" fill="rgb(140,140,140)"/>
<circle cx="366.3" cy="379.4" r="0.57" fill="rgb(113,113,113)"/>
<circle cx="363.2" cy="369.5" r="0.59" fill="rgb(116,116,116)"/>
<circle cx="383.4" cy="375.5" r="0.60" fill="rgb(105,105,105)"/>
<circle cx="373.4" cy="376.5" r="0.60" fill="rgb(139,139,139)"/>
<circle cx="385.3" cy="368.6" r="0.53" fill="rgb(139,139,139)"/>
<circle cx="357.6" cy="381.5" r="0.48" fill="rgb(146,146,146)"/>
<circle cx="392.7" cy="382.0" r="0.70" fill="rgb(159,159,159)"/>
<circle cx="374.6" cy="387.7" r="0.29" fill="rgb(130,130,130)"/>
<circle cx="379.8" cy="380.3" r="0.60" fill="rgb(103,103,103)"/>
<circle cx="377.5" cy="389.1" r="0.31" fill="rgb(129,129,129)"/>
<circle cx="358.3" cy="370.4" r="0.64" fill="rgb(115,115,115)"/>
<circle cx="366.0" cy="382.5" r="0.68" fill="rgb(105,105,105)"/>
<circle cx="380.8" cy="382.8" r="0.48" fill="rgb(140,140,140)"/>
<circle cx="377.2" cy="377.3" r="0.44" fill="rgb(138,138,138)"/>
<circle cx="392.1" cy="371.9" r="0.54" fill="rgb(147,147,147)"/>
<circle cx="396.0" cy="382.5" r="0.65" fill="rgb(157,157,157)"/>
<circle cx="369.9" cy="381.8" r="0.55" fill="rgb(98,98,98)"/>
<circle cx="383.8" cy="379.0" r="0.42" fill="rgb(97,97,97)"/>
<circle cx="383.1" cy="376.2" r="0.43" fill="rgb(95,95,95)"/>
<circle cx="385.8" cy="368.0" r="0.39" fill="rgb(121,121,121)"/>
<circle cx="372.3" cy="381.6" r="0.70" fill="rgb(130,130,130)"/>
<circle cx="372.9" cy="376.6" r="0.42" fill="rgb(114,114,114)"/>
<circle cx="380.0" cy="371.4" r="0.68" fill="rgb(135,135,135)"/>
<circle cx="383.7" cy="384.2" r="0.50" fill="rgb(171,171,171)"/>
<circle cx="386.3" cy="366.4" r="0.43" fill="rgb(106,106,106)"/>
<circle cx="379.4" cy="361.9" r="0.42" fill="rgb(111,111,111)"/>
<circle cx="385.4" cy="357.4" r="0.62" fill="rgb(158,158,158)"/>
<circle cx="376.7" cy="367.8" r="0.43" fill="rgb(95,95,95)"/>
<circle cx="385.8" cy="377.6" r="0.57" fill="rgb(170,170,170)"/>
<circle cx="356.5" cy="383.0" r="0.68" fill="rgb(122,122,122)"/>
<circle cx="378.7" cy="383.2" r="0.37" fill="rgb(143,143,143)"/>
<circle cx="390.9" cy="366.9" r="0.55" fill="rgb(157,157,157)"/>
<circle cx="392.7" cy="384.8" r="0.61" fill="rgb(153,153,153)"/>
<circle cx="368.5" cy="377.4" r="0.42" fill="rgb(157,157,157)"/>
<circle cx="388.2" cy="374.3" r="0.68" fill="rgb(151,151,151)"/>
<circle cx="380.0" cy="380.8" r="0.66" fill="rgb(158,158,158)"/>
<circle cx="389.8" cy="391.7" r="0.56" fill="rgb(121,121,121)"/>
<circle cx="372.4" cy="374.7" r="0.69" fill="rgb(145,145,145)"/>
<circle cx="360.2" cy="373.5" r="0.65" fill="rgb(159,159,159)"/>
<circle cx="379.3" cy="383.9" r="0.38" fill="rgb(140,140,140)"/>
<circle cx="376.7" cy="385.6" r="0.66" fill="rgb(121,121,121)"/>
<circle cx="361.1" cy="380.3" r="0.46" fill="rgb(166,166,166)"/>
<circle cx="363.7" cy="376.1" r="0.29" fill="rgb(128,128,128)"/>
<circle cx="377.8" cy="377.3" r="0.35" fill="rgb(131,131,131)"/>
<circle cx="375.3" cy="364.3" r="0.50" fill="rgb(137,137,137)"/>
<circle cx="378.6" cy="370.5" r="0.38" fill="rgb(115,115,115)"/>
<circle cx="379.2" cy="363.5" r="0.60" fill="rgb(166,166,166)"/>
<circle cx="363.7" cy="381.0" r="0.50" fill="rgb(148,148,148)"/>
<circle cx="364.5" cy="379.9" r="0.68" fill="rgb(149,149,149)"/>
<circle cx="388.7" cy="365.6" r="0.51" fill="rgb(168,168,168)"/>
<circle cx="380.3" cy="371.7" r="0.47" fill="rgb(99,99,99)"/>
<circle cx="377.6" cy="381.3" r="0.61" fill="rgb(165,165,165)"/>
<circle cx="386.8" cy="389.4" r="0.34" fill="rgb(164,164,164)"/>
<circle cx="387.6" cy="374.2" r="0.45" fill="rgb(132,132,132)"/>
<circle cx="391.5" cy="375.3" r="0.46" fill="rgb(134,134,134)"/>
<circle cx="373.3" cy="382.2" r="0.58" fill="rgb(95,95,95)"/>
<circle cx="368.3" cy="373.2" r="0.42" fill="rgb(143,143,143)"/>
<circle cx="371.6" cy="375.8" r="0.61" fill="rgb(171,171,171)"/>
<circle cx="383.2" cy="380.5" r="0.61" fill="rgb(115,115,115)"/>
<circle cx="387.1" cy="386.1" r="0.62" fill="rgb(114,114,114)"/>
<circle cx="388.1" cy="390.2" r="0.57" fill="rgb(100,100,100)"/>
<circle cx="391.1" cy="381.2" r="0.31" fill="rgb(168,168,168)"/>
<circle cx="368.5" cy="366.7" r="0.64" fill="rgb(98,98,98)"/>
<circle cx="384.8" cy="367.9" r="0.51" fill="rgb(167,167,167)"/>
<circle cx="376.5" cy="382.5" r="0.38" fill="rgb(102,102,102)"/>
<circle cx="379.2" cy="379.1" r="0.41" fill="rgb(117,117,117)"/>
<circle cx="377.9" cy="366.8" r="0.35" fill="rgb(121,121,121)"/>
<circle cx="384.4" cy="377.0" r="0.59" fill="rgb(137,137,137)"/>
<circle cx="383.0" cy="389.7" r="0.32" fill="rgb(159,159,159)"/>
<circle cx="363.6" cy="382.1" r="0.45" fill="rgb(134,134,134)"/>
<circle cx="370.8" cy="361.3" r="0.63" fill="rgb(150,150,150)"/>
<circle cx="370.1" cy="368.4" r="0.30" fill="rgb(103,103,103)"/>
<circle cx="390.0" cy="381.9" r="0.35" fill="rgb(100,100,100)"/>
<circle cx="387.4" cy="361.3" r="0.40" fill="rgb(112,112,112)"/>
<circle cx="374.5" cy="385.8" r="0.47" fill="rgb(114,114,114)"/>
<circle cx="395.4" cy="372.0" r="0.38" fill="rgb(170,170,170)"/>
<circle cx="374.2" cy="383.7" r="0.44" fill="rgb(131,131,131)"/>
<circle cx="369.0" cy="376.1" r="0.28" fill="rgb(114,114,114)"/>
<circle cx="385.1" cy="380.9" r="0.29" fill="rgb(117,117,117)"/>
<circle cx="378.8" cy="389.7" r="0.60" fill="rgb(146,146,146)"/>
<circle cx="373.8" cy="361.0" r="0.42" fill="rgb(172,172,172)"/>
<circle cx="387.2" cy="389.1" r="0.30" fill="rgb(160,160,160)"/>
<circle cx="390.0" cy="366.5" r="0.62" fill="rgb(104,104,104)"/>
<circle cx="362.3" cy="374.1" r="0.62" fill="rgb(159,159,159)"/>
<circle cx="360.9" cy="367.1" r="0.57" fill="rgb(111,111,111)"/>
<circle cx="383.5" cy="377.4" r="0.32" fill="rgb(160,160,160)"/>
<circle cx="362.8" cy="370.9" r="0.57" fill="rgb(132,132,132)"/>
<circle cx="395.7" cy="376.6" r="0.49" fill="rgb(136,136,136)"/>
<circle cx="374.5" cy="372.0" r="0.39" fill="rgb(99,99,99)"/>
<circle cx="376.0" cy="389.1" r="0.59" fill="rgb(171,171,171)"/>
<circle cx="366.0" cy="376.6" r="0.57" fill="rgb(154,154,154)"/>
<circle cx="368.5" cy="368.6" r="0.34" fill="rgb(113,113,113)"/>
<circle cx="376.9" cy="366.2" r="0.29" fill="rgb(98,98,98)"/>
<circle cx="375.4" cy="391.8" r="0.56" fill="rgb(116,116,116)"/>
<circle cx="365.0" cy="375.0" r="0.33" fill="rgb(164,164,164)"/>
<circle cx="384.2" cy="396.1" r="0.29" fill="rgb(130,130,130)"/>
<circle cx="384.9" cy="360.9" r="0.39" fill="rgb(110,110,110)"/>
<circle cx="385.6" cy="373.4" r="0.34" fill="rgb(135,135,135)"/>
<circle cx="384.7" cy="374.0" r="0.49" fill="rgb(164,164,164)"/>
<circle cx="374.2" cy="366.6" r="0.48" fill="rgb(95,95,95)"/>
<circle cx="390.0" cy="376.5" r="0.41" fill="rgb(104,104,104)"/>
<circle cx="370.6" cy="385.7" r="0.28" fill="rgb(153,153,153)"/>
<circle cx="381.4" cy="370.0" r="0.58" fill="rgb(165,165,165)"/>
<circle cx="374.6" cy="386.1" r="0.70" fill="rgb(140,140,140)"/>
<circle cx="370.4" cy="384.1" r="0.30" fill="rgb(101,101,101)"/>
<circle cx="383.3" cy="366.5" r="0.38" fill="rgb(114,114,114)"/>
<circle cx="369.7" cy="375.7" r="0.68" fill="rgb(164,164,164)"/>
<circle cx="384.0" cy="360.8" r="0.68" fill="rgb(137,137,137)"/>
<circle cx="376.4" cy="371.9" r="0.47" fill="rgb(153,153,153)"/>
<circle cx="372.5" cy="370.4" r="0.67" fill="rgb(103,103,103)"/>
<circle cx="367.6" cy="377.8" r="0.59" fill="rgb(171,171,171)"/>
<circle cx="376.4" cy="389.1" r="0.51" fill="rgb(125,125,125)"/>
<circle cx="380.5" cy="381.5" r="0.66" fill="rgb(133,133,133)"/>
<circle cx="381.4" cy="396.4" r="0.47" fill="rgb(104,104,104)"/>
<circle cx="379.1" cy="380.8" r="0.32" fill="rgb(112,112,112)"/>
<circle cx="376.4" cy="391.8" r="0.59" fill="rgb(126,126,126)"/>
<circle cx="366.5" cy="382.4" r="0.42" fill="rgb(98,98,98)"/>
<circle cx="374.7" cy="390.2" r="0.49" fill="rgb(143,143,143)"/>
<circle cx="382.3" cy="370.7" r="0.38" fill="rgb(125,125,125)"/>
<circle cx="357.5" cy="382.9" r="0.65" fill="rgb(95,95,95)"/>
<circle cx="395.4" cy="379.7" r="0.48" fill="rgb(140,140,140)"/>
<circle cx="391.2" cy="376.2" r="0.63" fill="rgb(161,161,161)"/>
<circle cx="384.7" cy="375.0" r="0.34" fill="rgb(135,135,135)"/>
<circle cx="369.1" cy="359.1" r="0.55" fill="rgb(154,154,154)"/>
<circle cx="366.9" cy="378.9" r="0.61" fill="rgb(112,112,112)"/>
<circle cx="389.1" cy="370.0" r="0.33" fill="rgb(113,113,113)"/>
<circle cx="369.0" cy="367.1" r="0.31" fill="rgb(135,135,135)"/>
<circle cx="368.6" cy="371.5" r="0.53" fill="rgb(94,94,94)"/>
<circle cx="372.4" cy="389.9" r="0.55" fill="rgb(164,164,164)"/>
<circle cx="369.5" cy="377.4" r="0.68" fill="rgb(149,149,149)"/>
<circle cx="376.3" cy="378.6" r="0.56" fill="rgb(127,127,127)"/>
<circle cx="376.5" cy="393.4" r="0.38" fill="rgb(96,96,96)"/>
<circle cx="370.5" cy="386.7" r="0.36" fill="rgb(157,157,157)"/>
<circle cx="376.5" cy="365.5" r="0.69" fill="rgb(118,118,118)"/>
<circle cx="380.6" cy="369.6" r="0.60" fill="rgb(117,117,117)"/>
<circle cx="387.9" cy="373.1" r="0.37" fill="rgb(126,126,126)"/>
<circle cx="369.7" cy="363.9" r="0.45" fill="rgb(110,110,110)"/>
<circle cx="382.7" cy="375.4" r="0.31" fill="rgb(124,124,124)"/>
<circle cx="392.8" cy="365.3" r="0.70" fill="rgb(168,168,168)"/>
<circle cx="372.7" cy="384.2" r="0.59" fill="rgb(96,96,96)"/>
<circle cx="371.8" cy="367.5" r="0.42" fill="rgb(107,107,107)"/>
<circle cx="386.4" cy="376.4" r="0.68" fill="rgb(103,103,103)"/>
<circle cx="385.0" cy="374.5" r="0.63" fill="rgb(159,159,159)"/>
<circle cx="373.6" cy="377.8" r="0.44" fill="rgb(167,167,167)"/>
<circle cx="381.9" cy="388.0" r="0.29" fill="rgb(126,126,126)"/>
<circle cx="382.1" cy="365.0" r="0.29" fill="rgb(98,98,98)"/>
<circle cx="386.5" cy="371.4" r="0.66" fill="rgb(120,120,120)"/>
<circle cx="374.6" cy="394.1" r="0.39" fill="rgb(150,150,150)"/>
<circle cx="374.3" cy="382.7" r="0.60" fill="rgb(166,166,166)"/>
<circle cx="368.0" cy="366.3" r="0.38" fill="rgb(131,131,131)"/>
<circle cx="393.8" cy="371.8" r="0.39" fill="rgb(127,127,127)"/>
<circle cx="362.1" cy="376.8" r="0.62" fill="rgb(152,152,152)"/>
<circle cx="384.8" cy="361.7" r="0.42" fill="rgb(119,119,119)"/>
<circle cx="368.8" cy="385.7" r="0.36" fill="rgb(153,153,153)"/>
<circle cx="377.4" cy="379.7" r="0.51" fill="rgb(119,119,119)"/>
<circle cx="398.5" cy="373.7" r="0.39" fill="rgb(100,100,100)"/>
<circle cx="389.1" cy="384.0" r="0.47" fill="rgb(112,112,112)"/>
<circle cx="363.6" cy="383.7" r="0.59" fill="rgb(161,161,161)"/>
<circle cx="373.5" cy="370.1" r="0.40" fill="rgb(138,138,138)"/>
<circle cx="367.8" cy="385.5" r="0.38" fill="rgb(113,113,113)"/>
<circle cx="387.6" cy="390.2" r="0.42" fill="rgb(125,125,125)"/>
<circle cx="388.8" cy="375.7" r="0.62" fill="rgb(145,145,145)"/>
<ellipse cx="435.1" cy="376.2" rx="26.5" ry="25.0" fill="#dedede" stroke="#767676" stroke-width="2.2"/>
<ellipse cx="435.1" cy="376.2" rx="24.2" ry="22.7" fill="none" stroke="#b0b0b0" stroke-width="0.7"/>
<circle cx="441.0" cy="375.9" r="0.62" fill="rgb(160,160,160)"/>
<circle cx="438.0" cy="374.6" r="0.33" fill="rgb(108,108,108)"/>
<circle cx="451.9" cy="373.5" r="0.44" fill="rgb(162,162,162)"/>
<circle cx="424.9" cy="379.4" r="0.68" fill="rgb(101,101,101)"/>
<circle cx="424.7" cy="369.4" r="0.43" fill="rgb(104,104,104)"/>
<circle cx="437.9" cy="385.1" r="0.55" fill="rgb(109,109,109)"/>
<circle cx="446.6" cy="377.0" r="0.36" fill="rgb(118,118,118)"/>
<circle cx="440.0" cy="391.5" r="0.31" fill="rgb(101,101,101)"/>
<circle cx="423.5" cy="384.7" r="0.32" fill="rgb(106,106,106)"/>
<circle cx="431.5" cy="366.7" r="0.41" fill="rgb(169,169,169)"/>
<circle cx="430.1" cy="387.6" r="0.45" fill="rgb(162,162,162)"/>
<circle cx="444.7" cy="376.0" r="0.59" fill="rgb(109,109,109)"/>
<circle cx="452.1" cy="376.8" r="0.62" fill="rgb(125,125,125)"/>
<circle cx="443.0" cy="369.5" r="0.29" fill="rgb(137,137,137)"/>
<circle cx="426.0" cy="365.8" r="0.54" fill="rgb(123,123,123)"/>
<circle cx="428.7" cy="376.0" r="0.50" fill="rgb(167,167,167)"/>
<circle cx="446.6" cy="385.1" r="0.69" fill="rgb(109,109,109)"/>
<circle cx="450.5" cy="391.1" r="0.48" fill="rgb(97,97,97)"/>
<circle cx="447.4" cy="370.4" r="0.54" fill="rgb(159,159,159)"/>
<circle cx="442.7" cy="387.6" r="0.45" fill="rgb(161,161,161)"/>
<circle cx="438.4" cy="370.5" r="0.45" fill="rgb(134,134,134)"/>
<circle cx="430.8" cy="379.8" r="0.58" fill="rgb(165,165,165)"/>
<circle cx="450.2" cy="380.0" r="0.30" fill="rgb(160,160,160)"/>
<circle cx="446.0" cy="385.6" r="0.54" fill="rgb(117,117,117)"/>
<circle cx="423.1" cy="382.4" r="0.56" fill="rgb(129,129,129)"/>
<circle cx="432.3" cy="377.3" r="0.49" fill="rgb(112,112,112)"/>
<circle cx="436.5" cy="361.1" r="0.36" fill="rgb(131,131,131)"/>
<circle cx="440.1" cy="380.0" r="0.32" fill="rgb(128,128,128)"/>
<circle cx="431.1" cy="376.0" r="0.31" fill="rgb(152,152,152)"/>
<circle cx="436.9" cy="366.4" r="0.49" fill="rgb(123,123,123)"/>
<circle cx="442.7" cy="373.9" r="0.70" fill="rgb(152,152,152)"/>
<circle cx="439.1" cy="367.5" r="0.49" fill="rgb(170,170,170)"/>
<circle cx="442.5" cy="372.1" r="0.67" fill="rgb(98,98,98)"/>
<circle cx="427.1" cy="386.5" r="0.66" fill="rgb(115,115,115)"/>
<circle cx="437.9" cy="370.1" r="0.67" fill="rgb(110,110,110)"/>
<circle cx="434.1" cy="387.6" r="0.30" fill="rgb(108,108,108)"/>
<circle cx="445.4" cy="391.8" r="0.66" fill="rgb(106,106,106)"/>
<circle cx="436.5" cy="370.3" r="0.55" fill="rgb(122,122,122)"/>
<circle cx="445.1" cy="366.5" r="0.65" fill="rgb(101,101,101)"/>
<circle cx="449.1" cy="375.6" r="0.62" fill="rgb(114,114,114)"/>
<circle cx="448.3" cy="375.5" r="0.60" fill="rgb(128,128,128)"/>
<circle cx="440.7" cy="386.9" r="0.62" fill="rgb(113,113,113)"/>
<circle cx="422.8" cy="362.3" r="0.56" fill="rgb(118,118,118)"/>
<circle cx="438.0" cy="376.2" r="0.54" fill="rgb(128,128,128)"/>
<circle cx="420.6" cy="375.1" r="0.38" fill="rgb(145,145,145)"/>
<circle cx="436.0" cy="376.3" r="0.32" fill="rgb(122,122,122)"/>
<circle cx="437.5" cy="390.0" r="0.37" fill="rgb(143,143,143)"/>
<circle cx="427.0" cy="377.4" r="0.38" fill="rgb(105,105,105)"/>
<circle cx="449.5" cy="385.5" r="0.61" fill="rgb(125,125,125)"/>
<circle cx="434.9" cy="378.2" r="0.52" fill="rgb(121,121,121)"/>
<circle cx="426.0" cy="365.0" r="0.59" fill="rgb(113,113,113)"/>
<circle cx="438.3" cy="374.1" r="0.45" fill="rgb(112,112,112)"/>
<circle cx="446.9" cy="380.5" r="0.51" fill="rgb(168,168,168)"/>
<circle cx="440.6" cy="382.6" r="0.49" fill="rgb(144,144,144)"/>
<circle cx="437.8" cy="370.0" r="0.41" fill="rgb(97,97,97)"/>
<circle cx="449.0" cy="365.2" r="0.28" fill="rgb(161,161,161)"/>
<circle cx="434.7" cy="362.9" r="0.47" fill="rgb(111,111,111)"/>
<circle cx="440.6" cy="380.3" r="0.42" fill="rgb(153,153,153)"/>
<circle cx="428.8" cy="359.5" r="0.39" fill="rgb(137,137,137)"/>
<circle cx="419.8" cy="382.4" r="0.39" fill="rgb(144,144,144)"/>
<circle cx="445.0" cy="374.1" r="0.29" fill="rgb(114,114,114)"/>
<circle cx="436.8" cy="394.4" r="0.59" fill="rgb(119,119,119)"/>
<circle cx="441.9" cy="370.2" r="0.66" fill="rgb(143,143,143)"/>
<circle cx="428.6" cy="359.8" r="0.48" fill="rgb(160,160,160)"/>
<circle cx="429.7" cy="361.3" r="0.58" fill="rgb(139,139,139)"/>
<circle cx="431.9" cy="384.2" r="0.31" fill="rgb(166,166,166)"/>
<circle cx="436.6" cy="378.1" r="0.67" fill="rgb(121,121,121)"/>
<circle cx="436.7" cy="378.0" r="0.57" fill="rgb(144,144,144)"/>
<circle cx="431.0" cy="364.9" r="0.53" fill="rgb(122,122,122)"/>
<circle cx="443.3" cy="359.1" r="0.31" fill="rgb(162,162,162)"/>
<circle cx="447.7" cy="369.1" r="0.37" fill="rgb(102,102,102)"/>
<circle cx="454.2" cy="380.2" r="0.55" fill="rgb(159,159,159)"/>
<circle cx="429.6" cy="370.6" r="0.32" fill="rgb(154,154,154)"/>
<circle cx="437.9" cy="385.4" r="0.29" fill="rgb(114,114,114)"/>
<circle cx="432.1" cy="389.8" r="0.41" fill="rgb(170,170,170)"/>
<circle cx="417.0" cy="375.8" r="0.29" fill="rgb(126,126,126)"/>
<circle cx="421.1" cy="381.8" r="0.58" fill="rgb(136,136,136)"/>
<circle cx="438.0" cy="389.1" r="0.62" fill="rgb(107,107,107)"/>
<circle cx="444.5" cy="376.3" r="0.69" fill="rgb(93,93,93)"/>
<circle cx="420.3" cy="377.0" r="0.36" fill="rgb(133,133,133)"/>
<circle cx="426.5" cy="387.8" r="0.68" fill="rgb(116,116,116)"/>
<circle cx="438.5" cy="390.5" r="0.33" fill="rgb(144,144,144)"/>
<circle cx="450.8" cy="384.5" r="0.61" fill="rgb(143,143,143)"/>
<circle cx="428.2" cy="384.5" r="0.65" fill="rgb(100,100,100)"/>
<circle cx="437.0" cy="374.7" r="0.39" fill="rgb(165,165,165)"/>
<circle cx="421.6" cy="376.1" r="0.38" fill="rgb(130,130,130)"/>
<circle cx="417.4" cy="372.8" r="0.55" fill="rgb(121,121,121)"/>
<circle cx="431.2" cy="383.3" r="0.56" fill="rgb(152,152,152)"/>
<circle cx="441.8" cy="387.7" r="0.52" fill="rgb(103,103,103)"/>
<circle cx="420.2" cy="379.6" r="0.36" fill="rgb(117,117,117)"/>
<circle cx="431.0" cy="363.3" r="0.35" fill="rgb(113,113,113)"/>
<circle cx="429.9" cy="385.7" r="0.42" fill="rgb(108,108,108)"/>
<circle cx="447.8" cy="374.3" r="0.68" fill="rgb(101,101,101)"/>
<circle cx="419.4" cy="389.4" r="0.59" fill="rgb(128,128,128)"/>
<circle cx="439.1" cy="387.0" r="0.37" fill="rgb(124,124,124)"/>
<circle cx="448.1" cy="378.9" r="0.57" fill="rgb(133,133,133)"/>
<circle cx="428.0" cy="368.9" r="0.53" fill="rgb(125,125,125)"/>
<circle cx="434.1" cy="360.1" r="0.52" fill="rgb(153,153,153)"/>
<circle cx="426.5" cy="380.6" r="0.65" fill="rgb(155,155,155)"/>
<circle cx="429.4" cy="359.5" r="0.55" fill="rgb(129,129,129)"/>
<circle cx="430.5" cy="386.6" r="0.46" fill="rgb(156,156,156)"/>
<circle cx="432.1" cy="364.2" r="0.46" fill="rgb(129,129,129)"/>
<circle cx="425.8" cy="367.8" r="0.67" fill="rgb(108,108,108)"/>
<circle cx="426.3" cy="364.1" r="0.49" fill="rgb(171,171,171)"/>
<circle cx="446.3" cy="378.8" r="0.61" fill="rgb(168,168,168)"/>
<circle cx="429.0" cy="375.5" r="0.51" fill="rgb(150,150,150)"/>
<circle cx="418.0" cy="375.0" r="0.50" fill="rgb(126,126,126)"/>
<circle cx="443.9" cy="373.4" r="0.44" fill="rgb(154,154,154)"/>
<circle cx="447.4" cy="387.5" r="0.30" fill="rgb(115,115,115)"/>
<circle cx="433.4" cy="377.3" r="0.46" fill="rgb(149,149,149)"/>
<circle cx="430.1" cy="382.5" r="0.59" fill="rgb(168,168,168)"/>
<circle cx="425.3" cy="374.6" r="0.44" fill="rgb(110,110,110)"/>
<circle cx="448.0" cy="389.1" r="0.55" fill="rgb(131,131,131)"/>
<circle cx="425.2" cy="372.3" r="0.43" fill="rgb(144,144,144)"/>
<circle cx="442.0" cy="362.0" r="0.40" fill="rgb(137,137,137)"/>
<circle cx="446.3" cy="386.8" r="0.64" fill="rgb(114,114,114)"/>
<circle cx="428.7" cy="382.2" r="0.36" fill="rgb(93,93,93)"/>
<circle cx="433.6" cy="368.1" r="0.41" fill="rgb(131,131,131)"/>
<circle cx="420.8" cy="382.7" r="0.43" fill="rgb(167,167,167)"/>
<circle cx="438.2" cy="372.4" r="0.66" fill="rgb(156,156,156)"/>
<circle cx="446.5" cy="389.3" r="0.29" fill="rgb(94,94,94)"/>
<circle cx="447.8" cy="372.5" r="0.32" fill="rgb(104,104,104)"/>
<circle cx="436.7" cy="390.5" r="0.34" fill="rgb(165,165,165)"/>
<circle cx="437.4" cy="368.0" r="0.54" fill="rgb(156,156,156)"/>
<circle cx="425.3" cy="359.8" r="0.63" fill="rgb(109,109,109)"/>
<circle cx="429.8" cy="362.9" r="0.46" fill="rgb(164,164,164)"/>
<circle cx="427.2" cy="373.5" r="0.34" fill="rgb(132,132,132)"/>
<circle cx="445.0" cy="379.8" r="0.49" fill="rgb(133,133,133)"/>
<circle cx="422.3" cy="373.1" r="0.63" fill="rgb(130,130,130)"/>
<circle cx="418.9" cy="369.8" r="0.44" fill="rgb(127,127,127)"/>
<circle cx="440.4" cy="374.9" r="0.55" fill="rgb(95,95,95)"/>
<circle cx="420.9" cy="365.1" r="0.42" fill="rgb(172,172,172)"/>
<circle cx="419.8" cy="375.2" r="0.29" fill="rgb(150,150,150)"/>
<circle cx="426.2" cy="367.7" r="0.43" fill="rgb(131,131,131)"/>
<circle cx="421.2" cy="374.1" r="0.46" fill="rgb(127,127,127)"/>
<circle cx="420.7" cy="371.4" r="0.63" fill="rgb(125,125,125)"/>
<circle cx="425.4" cy="376.0" r="0.69" fill="rgb(145,145,145)"/>
<circle cx="437.6" cy="367.3" r="0.41" fill="rgb(140,140,140)"/>
<circle cx="426.6" cy="367.1" r="0.58" fill="rgb(164,164,164)"/>
<circle cx="431.5" cy="375.2" r="0.28" fill="rgb(108,108,108)"/>
<circle cx="448.8" cy="369.2" r="0.61" fill="rgb(166,166,166)"/>
<circle cx="423.3" cy="366.8" r="0.57" fill="rgb(141,141,141)"/>
<circle cx="431.2" cy="368.3" r="0.47" fill="rgb(154,154,154)"/>
<circle cx="440.1" cy="379.7" r="0.61" fill="rgb(166,166,166)"/>
<circle cx="427.9" cy="366.0" r="0.61" fill="rgb(138,138,138)"/>
<circle cx="434.6" cy="385.5" r="0.41" fill="rgb(127,127,127)"/>
<circle cx="426.2" cy="365.8" r="0.52" fill="rgb(96,96,96)"/>
<circle cx="447.8" cy="387.3" r="0.67" fill="rgb(129,129,129)"/>
<circle cx="447.1" cy="377.2" r="0.67" fill="rgb(171,171,171)"/>
<circle cx="425.5" cy="377.6" r="0.55" fill="rgb(110,110,110)"/>
<circle cx="436.1" cy="377.6" r="0.57" fill="rgb(103,103,103)"/>
<circle cx="441.4" cy="374.9" r="0.33" fill="rgb(94,94,94)"/>
<circle cx="433.2" cy="366.8" r="0.36" fill="rgb(97,97,97)"/>
<circle cx="437.9" cy="359.1" r="0.59" fill="rgb(100,100,100)"/>
<circle cx="424.5" cy="365.7" r="0.67" fill="rgb(113,113,113)"/>
<circle cx="446.9" cy="373.7" r="0.29" fill="rgb(145,145,145)"/>
<circle cx="437.1" cy="372.1" r="0.59" fill="rgb(106,106,106)"/>
<circle cx="441.7" cy="368.8" r="0.43" fill="rgb(139,139,139)"/>
<circle cx="423.3" cy="380.7" r="0.61" fill="rgb(122,122,122)"/>
<circle cx="426.4" cy="365.6" r="0.44" fill="rgb(156,156,156)"/>
<circle cx="451.1" cy="370.8" r="0.40" fill="rgb(98,98,98)"/>
<circle cx="452.8" cy="373.4" r="0.42" fill="rgb(141,141,141)"/>
<circle cx="452.6" cy="373.8" r="0.41" fill="rgb(127,127,127)"/>
<circle cx="444.5" cy="368.6" r="0.53" fill="rgb(165,165,165)"/>
<circle cx="437.8" cy="369.5" r="0.39" fill="rgb(127,127,127)"/>
<circle cx="418.1" cy="366.5" r="0.30" fill="rgb(160,160,160)"/>
<circle cx="441.9" cy="360.6" r="0.40" fill="rgb(161,161,161)"/>
<circle cx="441.5" cy="360.0" r="0.43" fill="rgb(100,100,100)"/>
<circle cx="421.7" cy="371.7" r="0.60" fill="rgb(168,168,168)"/>
<circle cx="436.7" cy="390.9" r="0.48" fill="rgb(110,110,110)"/>
<ellipse cx="491.6" cy="376.2" rx="25.4" ry="25.0" fill="#dedede" stroke="#767676" stroke-width="2.2"/>
<ellipse cx="491.6" cy="376.2" rx="23.099999999999998" ry="22.7" fill="none" stroke="#b0b0b0" stroke-width="0.7"/>
<circle cx="491.1" cy="393.5" r="0.47" fill="rgb(105,105,105)"/>
<circle cx="496.4" cy="363.6" r="0.52" fill="rgb(169,169,169)"/>
<circle cx="501.2" cy="367.9" r="0.53" fill="rgb(113,113,113)"/>
<circle cx="494.5" cy="383.8" r="0.43" fill="rgb(143,143,143)"/>
<circle cx="482.8" cy="382.3" r="0.30" fill="rgb(177,177,177)"/>
<circle cx="487.3" cy="380.5" r="0.61" fill="rgb(110,110,110)"/>
<circle cx="482.9" cy="370.2" r="0.29" fill="rgb(100,100,100)"/>
<circle cx="508.0" cy="375.2" r="0.52" fill="rgb(118,118,118)"/>
<circle cx="494.2" cy="362.6" r="0.60" fill="rgb(163,163,163)"/>
<circle cx="498.4" cy="374.6" r="0.36" fill="rgb(112,112,112)"/>
<circle cx="495.2" cy="378.2" r="0.65" fill="rgb(134,134,134)"/>
<circle cx="504.4" cy="371.9" r="0.53" fill="rgb(129,129,129)"/>
<circle cx="502.9" cy="386.6" r="0.52" fill="rgb(149,149,149)"/>
<circle cx="504.9" cy="372.5" r="0.47" fill="rgb(110,110,110)"/>
<circle cx="506.7" cy="373.0" r="0.30" fill="rgb(118,118,118)"/>
<circle cx="479.6" cy="392.1" r="0.63" fill="rgb(101,101,101)"/>
<circle cx="495.2" cy="360.8" r="0.69" fill="rgb(102,102,102)"/>
<circle cx="503.1" cy="390.7" r="0.56" fill="rgb(121,121,121)"/>
<circle cx="481.0" cy="369.4" r="0.42" fill="rgb(118,118,118)"/>
<circle cx="499.0" cy="383.4" r="0.38" fill="rgb(109,109,109)"/>
<circle cx="490.6" cy="374.2" r="0.36" fill="rgb(100,100,100)"/>
<circle cx="500.7" cy="371.8" r="0.64" fill="rgb(169,169,169)"/>
<circle cx="497.8" cy="383.5" r="0.67" fill="rgb(165,165,165)"/>
<circle cx="483.9" cy="368.3" r="0.63" fill="rgb(136,136,136)"/>
<circle cx="487.5" cy="372.0" r="0.30" fill="rgb(155,155,155)"/>
<circle cx="484.1" cy="373.6" r="0.39" fill="rgb(130,130,130)"/>
<circle cx="497.6" cy="385.0" r="0.42" fill="rgb(111,111,111)"/>
<circle cx="479.7" cy="376.9" r="0.33" fill="rgb(176,176,176)"/>
<circle cx="508.6" cy="382.5" r="0.37" fill="rgb(136,136,136)"/>
<circle cx="489.8" cy="383.7" r="0.43" fill="rgb(177,177,177)"/>
<circle cx="505.5" cy="376.0" r="0.40" fill="rgb(169,169,169)"/>
<circle cx="504.4" cy="381.0" r="0.69" fill="rgb(99,99,99)"/>
<circle cx="494.6" cy="368.2" r="0.28" fill="rgb(164,164,164)"/>
<circle cx="484.3" cy="375.0" r="0.66" fill="rgb(115,115,115)"/>
<circle cx="486.5" cy="373.8" r="0.60" fill="rgb(154,154,154)"/>
<circle cx="492.9" cy="380.0" r="0.54" fill="rgb(137,137,137)"/>
<circle cx="490.3" cy="384.5" r="0.58" fill="rgb(162,162,162)"/>
<circle cx="486.1" cy="373.1" r="0.59" fill="rgb(130,130,130)"/>
<circle cx="490.7" cy="371.5" r="0.42" fill="rgb(165,165,165)"/>
<circle cx="498.0" cy="369.0" r="0.66" fill="rgb(136,136,136)"/>
<circle cx="497.0" cy="370.6" r="0.63" fill="rgb(127,127,127)"/>
<circle cx="497.5" cy="385.8" r="0.28" fill="rgb(139,139,139)"/>
<circle cx="481.7" cy="379.7" r="0.58" fill="rgb(163,163,163)"/>
<circle cx="499.0" cy="368.0" r="0.44" fill="rgb(158,158,158)"/>
<circle cx="510.3" cy="383.7" r="0.49" fill="rgb(139,139,139)"/>
<circle cx="481.7" cy="374.3" r="0.69" fill="rgb(115,115,115)"/>
<circle cx="493.7" cy="380.7" r="0.62" fill="rgb(100,100,100)"/>
<circle cx="502.1" cy="383.4" r="0.29" fill="rgb(145,145,145)"/>
<circle cx="479.1" cy="369.8" r="0.32" fill="rgb(167,167,167)"/>
<circle cx="491.0" cy="373.2" r="0.49" fill="rgb(138,138,138)"/>
<circle cx="490.5" cy="382.0" r="0.34" fill="rgb(145,145,145)"/>
<circle cx="496.1" cy="370.9" r="0.59" fill="rgb(111,111,111)"/>
<circle cx="499.1" cy="361.9" r="0.46" fill="rgb(165,165,165)"/>
<circle cx="478.2" cy="374.1" r="0.61" fill="rgb(125,125,125)"/>
<circle cx="492.2" cy="386.0" r="0.69" fill="rgb(162,162,162)"/>
<circle cx="507.6" cy="366.6" r="0.30" fill="rgb(139,139,139)"/>
<circle cx="506.3" cy="372.3" r="0.46" fill="rgb(148,148,148)"/>
<circle cx="484.8" cy="383.9" r="0.46" fill="rgb(138,138,138)"/>
<circle cx="499.7" cy="377.2" r="0.61" fill="rgb(172,172,172)"/>
<circle cx="478.9" cy="362.4" r="0.65" fill="rgb(100,100,100)"/>
<circle cx="485.3" cy="368.6" r="0.39" fill="rgb(141,141,141)"/>
<circle cx="502.6" cy="370.6" r="0.50" fill="rgb(132,132,132)"/>
<circle cx="499.9" cy="373.6" r="0.55" fill="rgb(107,107,107)"/>
<circle cx="477.1" cy="366.6" r="0.39" fill="rgb(135,135,135)"/>
<circle cx="486.1" cy="375.0" r="0.34" fill="rgb(121,121,121)"/>
<circle cx="484.6" cy="380.8" r="0.32" fill="rgb(141,141,141)"/>
<circle cx="499.3" cy="364.2" r="0.55" fill="rgb(114,114,114)"/>
<circle cx="488.6" cy="364.4" r="0.54" fill="rgb(135,135,135)"/>
<circle cx="488.8" cy="383.2" r="0.50" fill="rgb(128,128,128)"/>
<circle cx="490.0" cy="375.3" r="0.64" fill="rgb(117,117,117)"/>
<circle cx="481.1" cy="372.3" r="0.69" fill="rgb(121,121,121)"/>
<circle cx="492.4" cy="370.7" r="0.65" fill="rgb(133,133,133)"/>
<circle cx="501.6" cy="380.2" r="0.59" fill="rgb(106,106,106)"/>
<circle cx="494.6" cy="395.1" r="0.34" fill="rgb(124,124,124)"/>
<circle cx="482.3" cy="388.4" r="0.64" fill="rgb(163,163,163)"/>
<circle cx="474.6" cy="374.3" r="0.60" fill="rgb(136,136,136)"/>
<circle cx="495.5" cy="359.0" r="0.33" fill="rgb(167,167,167)"/>
<circle cx="507.8" cy="376.6" r="0.49" fill="rgb(175,175,175)"/>
<circle cx="479.9" cy="370.6" r="0.65" fill="rgb(146,146,146)"/>
<circle cx="483.1" cy="384.1" r="0.58" fill="rgb(121,121,121)"/>
<circle cx="481.9" cy="384.0" r="0.42" fill="rgb(160,160,160)"/>
<circle cx="498.8" cy="366.4" r="0.36" fill="rgb(122,122,122)"/>
<circle cx="500.2" cy="387.1" r="0.32" fill="rgb(171,171,171)"/>
<circle cx="483.1" cy="392.9" r="0.68" fill="rgb(114,114,114)"/>
<circle cx="479.9" cy="382.0" r="0.30" fill="rgb(143,143,143)"/>
<circle cx="472.3" cy="376.5" r="0.51" fill="rgb(177,177,177)"/>
<circle cx="477.8" cy="374.7" r="0.44" fill="rgb(126,126,126)"/>
<circle cx="481.0" cy="369.1" r="0.56" fill="rgb(140,140,140)"/>
<circle cx="500.1" cy="382.2" r="0.52" fill="rgb(143,143,143)"/>
<circle cx="504.3" cy="364.5" r="0.46" fill="rgb(147,147,147)"/>
<circle cx="502.2" cy="375.9" r="0.62" fill="rgb(111,111,111)"/>
<circle cx="483.2" cy="394.4" r="0.50" fill="rgb(106,106,106)"/>
<circle cx="505.0" cy="365.9" r="0.70" fill="rgb(169,169,169)"/>
<circle cx="486.0" cy="379.2" r="0.49" fill="rgb(138,138,138)"/>
<circle cx="494.7" cy="383.6" r="0.53" fill="rgb(126,126,126)"/>
<circle cx="502.8" cy="375.8" r="0.45" fill="rgb(161,161,161)"/>
<circle cx="487.6" cy="386.7" r="0.41" fill="rgb(165,165,165)"/>
<circle cx="480.9" cy="369.9" r="0.49" fill="rgb(142,142,142)"/>
<circle cx="490.1" cy="390.5" r="0.70" fill="rgb(143,143,143)"/>
<circle cx="487.2" cy="378.9" r="0.60" fill="rgb(106,106,106)"/>
<circle cx="497.6" cy="380.5" r="0.63" fill="rgb(147,147,147)"/>
<circle cx="492.8" cy="373.0" r="0.60" fill="rgb(123,123,123)"/>
<circle cx="489.7" cy="367.6" r="0.39" fill="rgb(105,105,105)"/>
<circle cx="502.0" cy="369.1" r="0.47" fill="rgb(128,128,128)"/>
<circle cx="508.0" cy="382.0" r="0.68" fill="rgb(133,133,133)"/>
<circle cx="486.5" cy="371.5" r="0.67" fill="rgb(166,166,166)"/>
<circle cx="483.9" cy="393.7" r="0.41" fill="rgb(146,146,146)"/>
<circle cx="506.3" cy="372.5" r="0.38" fill="rgb(129,129,129)"/>
<circle cx="490.1" cy="368.8" r="0.65" fill="rgb(136,136,136)"/>
<circle cx="493.6" cy="369.1" r="0.43" fill="rgb(112,112,112)"/>
<circle cx="501.3" cy="374.5" r="0.33" fill="rgb(140,140,140)"/>
<circle cx="484.8" cy="382.0" r="0.33" fill="rgb(164,164,164)"/>
<circle cx="487.1" cy="382.2" r="0.40" fill="rgb(116,116,116)"/>
<circle cx="504.7" cy="379.1" r="0.35" fill="rgb(154,154,154)"/>
<circle cx="500.5" cy="382.0" r="0.33" fill="rgb(133,133,133)"/>
<circle cx="498.5" cy="364.9" r="0.43" fill="rgb(155,155,155)"/>
<circle cx="480.8" cy="386.6" r="0.68" fill="rgb(138,138,138)"/>
<circle cx="493.0" cy="385.9" r="0.58" fill="rgb(118,118,118)"/>
<circle cx="501.9" cy="368.8" r="0.38" fill="rgb(146,146,146)"/>
<circle cx="494.8" cy="389.3" r="0.50" fill="rgb(141,141,141)"/>
<ellipse cx="377.3" cy="431.1" rx="26.4" ry="25.0" fill="#dedede" stroke="#767676" stroke-width="2.2"/>
<ellipse cx="377.3" cy="431.1" rx="24.099999999999998" ry="22.7" fill="none" stroke="#b0b0b0" stroke-width="0.7"/>
<circle cx="375.3" cy="445.6" r="0.56" fill="rgb(143,143,143)"/>
<circle cx="373.8" cy="439.3" r="0.35" fill="rgb(166,166,166)"/>
<circle cx="372.0" cy="441.6" r="0.52" fill="rgb(126,126,126)"/>
<circle cx="369.3" cy="431.1" r="0.41" fill="rgb(116,116,116)"/>
<circle cx="387.2" cy="440.6" r="0.45" fill="rgb(170,170,170)"/>
<circle cx="380.5" cy="412.1" r="0.34" fill="rgb(120,120,120)"/>
<circle cx="393.4" cy="434.0" r="0.43" fill="rgb(131,131,131)"/>
<circle cx="369.9" cy="420.2" r="0.64" fill="rgb(126,126,126)"/>
<circle cx="372.8" cy="426.7" r="0.66" fill="rgb(156,156,156)"/>
<circle cx="376.6" cy="428.4" r="0.35" fill="rgb(113,113,113)"/>
<circle cx="374.4" cy="439.1" r="0.41" fill="rgb(149,149,149)"/>
<circle cx="384.8" cy="446.1" r="0.58" fill="rgb(118,118,118)"/>
<circle cx="364.3" cy="436.5" r="0.28" fill="rgb(164,164,164)"/>
<circle cx="378.6" cy="423.8" r="0.64" fill="rgb(146,146,146)"/>
<circle cx="384.4" cy="433.2" r="0.61" fill="rgb(114,114,114)"/>
<circle cx="388.4" cy="424.8" r="0.57" fill="rgb(129,129,129)"/>
<circle cx="377.1" cy="416.8" r="0.32" fill="rgb(173,173,173)"/>
<circle cx="360.0" cy="439.6" r="0.59" fill="rgb(164,164,164)"/>
<circle cx="370.5" cy="424.4" r="0.57" fill="rgb(132,132,132)"/>
<circle cx="362.6" cy="430.1" r="0.60" fill="rgb(101,101,101)"/>
<circle cx="373.0" cy="417.7" r="0.51" fill="rgb(175,175,175)"/>
<circle cx="369.5" cy="422.4" r="0.30" fill="rgb(126,126,126)"/>
<circle cx="370.9" cy="434.9" r="0.34" fill="rgb(154,154,154)"/>
<circle cx="373.5" cy="424.5" r="0.50" fill="rgb(133,133,133)"/>
<circle cx="386.4" cy="427.4" r="0.65" fill="rgb(109,109,109)"/>
<circle cx="366.0" cy="426.6" r="0.51" fill="rgb(158,158,158)"/>
<circle cx="385.0" cy="444.2" r="0.47" fill="rgb(159,159,159)"/>
<circle cx="380.1" cy="426.4" r="0.43" fill="rgb(114,114,114)"/>
<circle cx="385.1" cy="434.1" r="0.57" fill="rgb(133,133,133)"/>
<circle cx="385.2" cy="437.5" r="0.43" fill="rgb(111,111,111)"/>
<circle cx="379.4" cy="432.1" r="0.60" fill="rgb(104,104,104)"/>
<circle cx="373.4" cy="413.6" r="0.33" fill="rgb(137,137,137)"/>
<circle cx="369.8" cy="434.2" r="0.28" fill="rgb(171,171,171)"/>
<circle cx="366.4" cy="417.9" r="0.55" fill="rgb(118,118,118)"/>
<circle cx="377.4" cy="436.2" r="0.61" fill="rgb(165,165,165)"/>
<circle cx="374.9" cy="438.8" r="0.64" fill="rgb(172,172,172)"/>
<circle cx="386.6" cy="446.7" r="0.59" fill="rgb(124,124,124)"/>
<circle cx="383.5" cy="444.5" r="0.43" fill="rgb(142,142,142)"/>
<circle cx="367.2" cy="441.4" r="0.30" fill="rgb(143,143,143)"/>
<circle cx="364.6" cy="418.5" r="0.66" fill="rgb(173,173,173)"/>
<circle cx="366.3" cy="431.5" r="0.41" fill="rgb(144,144,144)"/>
<circle cx="388.6" cy="437.0" r="0.47" fill="rgb(175,175,175)"/>
<circle cx="380.3" cy="432.9" r="0.36" fill="rgb(155,155,155)"/>
<circle cx="397.1" cy="431.4" r="0.61" fill="rgb(132,132,132)"/>
<circle cx="374.2" cy="445.2" r="0.46" fill="rgb(125,125,125)"/>
<circle cx="361.2" cy="437.3" r="0.66" fill="rgb(111,111,111)"/>
<circle cx="373.7" cy="442.6" r="0.43" fill="rgb(113,113,113)"/>
<circle cx="386.2" cy="436.1" r="0.69" fill="rgb(170,170,170)"/>
<circle cx="392.0" cy="415.3" r="0.54" fill="rgb(162,162,162)"/>
<circle cx="392.2" cy="436.7" r="0.40" fill="rgb(143,143,143)"/>
<circle cx="390.4" cy="427.3" r="0.41" fill="rgb(125,125,125)"/>
<circle cx="379.3" cy="429.4" r="0.57" fill="rgb(133,133,133)"/>
<circle cx="389.5" cy="437.9" r="0.52" fill="rgb(131,131,131)"/>
<circle cx="364.3" cy="428.8" r="0.33" fill="rgb(112,112,112)"/>
<circle cx="385.9" cy="424.3" r="0.64" fill="rgb(118,118,118)"/>
<circle cx="387.1" cy="437.4" r="0.49" fill="rgb(142,142,142)"/>
<circle cx="379.0" cy="441.9" r="0.50" fill="rgb(145,145,145)"/>
<circle cx="385.6" cy="435.4" r="0.46" fill="rgb(167,167,167)"/>
<circle cx="360.7" cy="425.9" r="0.33" fill="rgb(177,177,177)"/>
<circle cx="376.1" cy="424.7" r="0.44" fill="rgb(111,111,111)"/>
<circle cx="392.5" cy="427.4" r="0.34" fill="rgb(160,160,160)"/>
<circle cx="385.2" cy="433.9" r="0.29" fill="rgb(145,145,145)"/>
<circle cx="379.9" cy="441.4" r="0.46" fill="rgb(169,169,169)"/>
<circle cx="364.4" cy="419.5" r="0.67" fill="rgb(167,167,167)"/>
<circle cx="384.6" cy="443.3" r="0.60" fill="rgb(152,152,152)"/>
<circle cx="380.1" cy="426.0" r="0.59" fill="rgb(173,173,173)"/>
<circle cx="376.6" cy="427.3" r="0.32" fill="rgb(141,141,141)"/>
<circle cx="379.7" cy="424.4" r="0.56" fill="rgb(118,118,118)"/>
<circle cx="382.3" cy="443.8" r="0.52" fill="rgb(107,107,107)"/>
<circle cx="384.3" cy="432.0" r="0.36" fill="rgb(142,142,142)"/>
<circle cx="373.7" cy="444.4" r="0.34" fill="rgb(168,168,168)"/>
<circle cx="360.2" cy="427.1" r="0.68" fill="rgb(99,99,99)"/>
<circle cx="373.4" cy="436.8" r="0.65" fill="rgb(162,162,162)"/>
<circle cx="386.2" cy="433.0" r="0.57" fill="rgb(129,129,129)"/>
<circle cx="368.8" cy="432.3" r="0.45" fill="rgb(167,167,167)"/>
<circle cx="373.7" cy="428.2" r="0.37" fill="rgb(169,169,169)"/>
<circle cx="374.5" cy="429.5" r="0.43" fill="rgb(135,135,135)"/>
<circle cx="367.8" cy="426.4" r="0.28" fill="rgb(144,144,144)"/>
<circle cx="376.0" cy="433.2" r="0.69" fill="rgb(101,101,101)"/>
<circle cx="385.5" cy="441.3" r="0.39" fill="rgb(138,138,138)"/>
<circle cx="376.2" cy="444.5" r="0.68" fill="rgb(177,177,177)"/>
<circle cx="392.6" cy="434.3" r="0.65" fill="rgb(159,159,159)"/>
<circle cx="368.1" cy="421.4" r="0.40" fill="rgb(161,161,161)"/>
<circle cx="390.9" cy="417.9" r="0.41" fill="rgb(159,159,159)"/>
<circle cx="376.4" cy="417.8" r="0.43" fill="rgb(142,142,142)"/>
<circle cx="373.8" cy="433.3" r="0.42" fill="rgb(177,177,177)"/>
<circle cx="367.5" cy="432.2" r="0.38" fill="rgb(125,125,125)"/>
<circle cx="378.5" cy="432.4" r="0.47" fill="rgb(133,133,133)"/>
<circle cx="369.5" cy="427.7" r="0.31" fill="rgb(122,122,122)"/>
<circle cx="371.5" cy="445.4" r="0.67" fill="rgb(125,125,125)"/>
<circle cx="387.3" cy="426.0" r="0.36" fill="rgb(144,144,144)"/>
<circle cx="389.7" cy="430.2" r="0.46" fill="rgb(167,167,167)"/>
<circle cx="391.2" cy="437.1" r="0.40" fill="rgb(118,118,118)"/>
<circle cx="383.9" cy="432.0" r="0.58" fill="rgb(115,115,115)"/>
<circle cx="370.3" cy="436.0" r="0.64" fill="rgb(149,149,149)"/>
<circle cx="383.6" cy="448.4" r="0.53" fill="rgb(104,104,104)"/>
<circle cx="383.1" cy="417.0" r="0.34" fill="rgb(113,113,113)"/>
<circle cx="359.4" cy="427.1" r="0.67" fill="rgb(114,114,114)"/>
<circle cx="369.4" cy="445.5" r="0.45" fill="rgb(152,152,152)"/>
<circle cx="375.1" cy="434.5" r="0.30" fill="rgb(148,148,148)"/>
<circle cx="370.4" cy="442.2" r="0.39" fill="rgb(135,135,135)"/>
<circle cx="395.6" cy="432.6" r="0.69" fill="rgb(102,102,102)"/>
<circle cx="366.4" cy="422.1" r="0.32" fill="rgb(110,110,110)"/>
<circle cx="385.5" cy="440.8" r="0.62" fill="rgb(131,131,131)"/>
<circle cx="363.2" cy="427.8" r="0.56" fill="rgb(146,146,146)"/>
<circle cx="370.4" cy="442.8" r="0.58" fill="rgb(159,159,159)"/>
<circle cx="379.2" cy="420.2" r="0.69" fill="rgb(134,134,134)"/>
<circle cx="374.4" cy="446.2" r="0.34" fill="rgb(98,98,98)"/>
<circle cx="360.6" cy="433.5" r="0.43" fill="rgb(177,177,177)"/>
<circle cx="379.1" cy="443.3" r="0.29" fill="rgb(108,108,108)"/>
<circle cx="389.8" cy="435.8" r="0.36" fill="rgb(173,173,173)"/>
<circle cx="373.3" cy="435.4" r="0.59" fill="rgb(171,171,171)"/>
<circle cx="379.2" cy="434.0" r="0.38" fill="rgb(176,176,176)"/>
<circle cx="363.6" cy="431.2" r="0.62" fill="rgb(134,134,134)"/>
<circle cx="370.9" cy="443.3" r="0.59" fill="rgb(103,103,103)"/>
<circle cx="368.9" cy="420.8" r="0.31" fill="rgb(143,143,143)"/>
<circle cx="359.2" cy="442.0" r="0.54" fill="rgb(115,115,115)"/>
<circle cx="377.2" cy="439.8" r="0.38" fill="rgb(114,114,114)"/>
<circle cx="378.1" cy="418.4" r="0.70" fill="rgb(115,115,115)"/>
<circle cx="369.5" cy="427.7" r="0.65" fill="rgb(119,119,119)"/>
<circle cx="377.4" cy="416.8" r="0.42" fill="rgb(136,136,136)"/>
<circle cx="383.6" cy="426.3" r="0.53" fill="rgb(134,134,134)"/>
<circle cx="364.1" cy="424.3" r="0.65" fill="rgb(126,126,126)"/>
<circle cx="380.0" cy="417.5" r="0.64" fill="rgb(177,177,177)"/>
<circle cx="376.6" cy="433.2" r="0.69" fill="rgb(98,98,98)"/>
<circle cx="384.1" cy="427.1" r="0.32" fill="rgb(111,111,111)"/>
<circle cx="375.2" cy="426.7" r="0.67" fill="rgb(155,155,155)"/>
<circle cx="387.8" cy="421.9" r="0.38" fill="rgb(161,161,161)"/>
<circle cx="376.0" cy="427.9" r="0.38" fill="rgb(132,132,132)"/>
<circle cx="379.8" cy="433.0" r="0.41" fill="rgb(168,168,168)"/>
<circle cx="385.1" cy="438.1" r="0.46" fill="rgb(112,112,112)"/>
<circle cx="374.2" cy="424.2" r="0.49" fill="rgb(106,106,106)"/>
<circle cx="367.9" cy="442.9" r="0.43" fill="rgb(115,115,115)"/>
<circle cx="396.2" cy="427.4" r="0.39" fill="rgb(112,112,112)"/>
<circle cx="376.9" cy="434.7" r="0.49" fill="rgb(130,130,130)"/>
<circle cx="369.3" cy="428.3" r="0.57" fill="rgb(150,150,150)"/>
<circle cx="362.9" cy="427.2" r="0.69" fill="rgb(167,167,167)"/>
<circle cx="375.1" cy="421.2" r="0.46" fill="rgb(175,175,175)"/>
<circle cx="369.0" cy="437.9" r="0.34" fill="rgb(177,177,177)"/>
<circle cx="394.6" cy="431.6" r="0.39" fill="rgb(146,146,146)"/>
<circle cx="371.7" cy="436.3" r="0.33" fill="rgb(165,165,165)"/>
<circle cx="380.2" cy="418.2" r="0.57" fill="rgb(123,123,123)"/>
<circle cx="369.7" cy="421.7" r="0.69" fill="rgb(98,98,98)"/>
<circle cx="376.9" cy="414.8" r="0.53" fill="rgb(177,177,177)"/>
<circle cx="378.9" cy="446.5" r="0.44" fill="rgb(154,154,154)"/>
<circle cx="366.2" cy="439.4" r="0.56" fill="rgb(123,123,123)"/>
<circle cx="369.1" cy="422.9" r="0.54" fill="rgb(119,119,119)"/>
<circle cx="389.1" cy="423.9" r="0.50" fill="rgb(136,136,136)"/>
<circle cx="378.8" cy="438.9" r="0.50" fill="rgb(139,139,139)"/>
<circle cx="362.9" cy="428.7" r="0.35" fill="rgb(163,163,163)"/>
<circle cx="360.8" cy="435.1" r="0.66" fill="rgb(167,167,167)"/>
<circle cx="390.0" cy="434.5" r="0.62" fill="rgb(107,107,107)"/>
<circle cx="381.6" cy="437.0" r="0.43" fill="rgb(162,162,162)"/>
<circle cx="367.4" cy="429.8" r="0.45" fill="rgb(177,177,177)"/>
<circle cx="373.1" cy="420.1" r="0.62" fill="rgb(158,158,158)"/>
<circle cx="385.7" cy="442.1" r="0.50" fill="rgb(117,117,117)"/>
<circle cx="370.3" cy="438.1" r="0.29" fill="rgb(114,114,114)"/>
<circle cx="373.9" cy="429.6" r="0.58" fill="rgb(119,119,119)"/>
<circle cx="372.6" cy="440.0" r="0.32" fill="rgb(148,148,148)"/>
<circle cx="382.4" cy="425.2" r="0.61" fill="rgb(147,147,147)"/>
<ellipse cx="435.1" cy="431.1" rx="26.5" ry="25.0" fill="#dedede" stroke="#767676" stroke-width="2.2"/>
<ellipse cx="435.1" cy="431.1" rx="24.2" ry="22.7" fill="none" stroke="#b0b0b0" stroke-width="0.7"/>
<circle cx="432.5" cy="433.7" r="0.43" fill="rgb(159,159,159)"/>
<circle cx="431.5" cy="442.6" r="0.62" fill="rgb(130,130,130)"/>
<circle cx="422.4" cy="441.7" r="0.36" fill="rgb(180,180,180)"/>
<circle cx="432.2" cy="419.9" r="0.42" fill="rgb(108,108,108)"/>
<circle cx="435.5" cy="420.2" r="0.49" fill="rgb(174,174,174)"/>
<circle cx="435.2" cy="428.2" r="0.47" fill="rgb(139,139,139)"/>
<circle cx="441.4" cy="421.7" r="0.65" fill="rgb(137,137,137)"/>
<circle cx="419.8" cy="431.9" r="0.56" fill="rgb(161,161,161)"/>
<circle cx="431.8" cy="433.3" r="0.51" fill="rgb(164,164,164)"/>
<circle cx="435.8" cy="425.9" r="0.31" fill="rgb(167,167,167)"/>
<circle cx="440.1" cy="434.6" r="0.52" fill="rgb(106,106,106)"/>
<circle cx="428.6" cy="417.8" r="0.30" fill="rgb(157,157,157)"/>
<circle cx="419.9" cy="439.3" r="0.62" fill="rgb(172,172,172)"/>
<circle cx="441.7" cy="439.2" r="0.28" fill="rgb(181,181,181)"/>
<circle cx="433.8" cy="439.2" r="0.39" fill="rgb(171,171,171)"/>
<circle cx="423.1" cy="427.0" r="0.30" fill="rgb(126,126,126)"/>
<circle cx="448.1" cy="417.5" r="0.39" fill="rgb(118,118,118)"/>
<circle cx="447.2" cy="435.0" r="0.47" fill="rgb(141,141,141)"/>
<circle cx="424.0" cy="425.0" r="0.36" fill="rgb(176,176,176)"/>
<circle cx="431.5" cy="429.8" r="0.50" fill="rgb(135,135,135)"/>
<circle cx="426.4" cy="427.6" r="0.61" fill="rgb(125,125,125)"/>
<circle cx="430.8" cy="415.2" r="0.47" fill="rgb(177,177,177)"/>
<circle cx="422.1" cy="435.5" r="0.46" fill="rgb(153,153,153)"/>
<circle cx="448.2" cy="435.0" r="0.53" fill="rgb(116,116,116)"/>
<circle cx="449.1" cy="424.1" r="0.49" fill="rgb(156,156,156)"/>
<circle cx="431.1" cy="423.8" r="0.63" fill="rgb(114,114,114)"/>
<circle cx="441.1" cy="427.9" r="0.32" fill="rgb(165,165,165)"/>
<circle cx="447.3" cy="427.4" r="0.39" fill="rgb(174,174,174)"/>
<circle cx="432.8" cy="426.1" r="0.57" fill="rgb(105,105,105)"/>
<circle cx="439.6" cy="424.0" r="0.52" fill="rgb(127,127,127)"/>
<circle cx="427.0" cy="428.0" r="0.42" fill="rgb(169,169,169)"/>
<circle cx="446.9" cy="446.8" r="0.44" fill="rgb(105,105,105)"/>
<circle cx="425.7" cy="439.5" r="0.51" fill="rgb(109,109,109)"/>
<circle cx="420.2" cy="434.3" r="0.57" fill="rgb(111,111,111)"/>
<circle cx="438.8" cy="424.6" r="0.70" fill="rgb(177,177,177)"/>
<circle cx="425.9" cy="429.7" r="0.60" fill="rgb(142,142,142)"/>
<circle cx="440.2" cy="428.8" r="0.64" fill="rgb(150,150,150)"/>
<circle cx="430.7" cy="430.0" r="0.39" fill="rgb(173,173,173)"/>
<circle cx="441.1" cy="422.8" r="0.29" fill="rgb(150,150,150)"/>
<circle cx="448.0" cy="428.6" r="0.56" fill="rgb(106,106,106)"/>
<circle cx="429.6" cy="440.1" r="0.59" fill="rgb(116,116,116)"/>
<circle cx="437.0" cy="423.7" r="0.51" fill="rgb(110,110,110)"/>
<circle cx="418.8" cy="425.9" r="0.47" fill="rgb(105,105,105)"/>
<circle cx="428.9" cy="430.6" r="0.34" fill="rgb(148,148,148)"/>
<circle cx="427.7" cy="440.3" r="0.35" fill="rgb(116,116,116)"/>
<circle cx="446.7" cy="426.9" r="0.65" fill="rgb(140,140,140)"/>
<circle cx="439.1" cy="436.2" r="0.33" fill="rgb(142,142,142)"/>
<circle cx="429.0" cy="429.8" r="0.35" fill="rgb(145,145,145)"/>
<circle cx="425.5" cy="430.7" r="0.45" fill="rgb(118,118,118)"/>
<circle cx="442.5" cy="438.3" r="0.49" fill="rgb(173,173,173)"/>
<circle cx="452.9" cy="432.7" r="0.61" fill="rgb(148,148,148)"/>
<circle cx="431.4" cy="422.4" r="0.34" fill="rgb(123,123,123)"/>
<circle cx="446.6" cy="433.2" r="0.40" fill="rgb(173,173,173)"/>
<circle cx="445.8" cy="437.0" r="0.53" fill="rgb(165,165,165)"/>
<circle cx="434.1" cy="427.4" r="0.53" fill="rgb(181,181,181)"/>
<circle cx="450.5" cy="435.0" r="0.62" fill="rgb(129,129,129)"/>
<circle cx="440.7" cy="417.8" r="0.28" fill="rgb(177,177,177)"/>
<circle cx="427.0" cy="435.8" r="0.38" fill="rgb(161,161,161)"/>
<circle cx="432.2" cy="425.4" r="0.34" fill="rgb(118,118,118)"/>
<circle cx="437.6" cy="443.2" r="0.70" fill="rgb(165,165,165)"/>
<circle cx="420.4" cy="432.9" r="0.66" fill="rgb(162,162,162)"/>
<circle cx="429.4" cy="424.8" r="0.64" fill="rgb(165,165,165)"/>
<circle cx="447.3" cy="438.7" r="0.35" fill="rgb(179,179,179)"/>
<circle cx="428.9" cy="420.0" r="0.63" fill="rgb(177,177,177)"/>
<circle cx="450.4" cy="421.2" r="0.62" fill="rgb(149,149,149)"/>
<circle cx="417.5" cy="438.2" r="0.65" fill="rgb(126,126,126)"/>
<circle cx="451.0" cy="427.3" r="0.33" fill="rgb(179,179,179)"/>
<circle cx="437.6" cy="421.2" r="0.38" fill="rgb(118,118,118)"/>
<circle cx="426.4" cy="433.3" r="0.66" fill="rgb(157,157,157)"/>
<circle cx="431.9" cy="419.0" r="0.61" fill="rgb(157,157,157)"/>
<circle cx="450.2" cy="425.6" r="0.32" fill="rgb(154,154,154)"/>
<circle cx="440.9" cy="421.9" r="0.63" fill="rgb(165,165,165)"/>
<circle cx="445.1" cy="431.4" r="0.33" fill="rgb(167,167,167)"/>
<circle cx="422.8" cy="437.6" r="0.42" fill="rgb(119,119,119)"/>
<circle cx="424.2" cy="444.6" r="0.40" fill="rgb(109,109,109)"/>
<circle cx="433.1" cy="445.3" r="0.56" fill="rgb(167,167,167)"/>
<circle cx="443.8" cy="438.9" r="0.63" fill="rgb(117,117,117)"/>
<circle cx="432.8" cy="447.0" r="0.37" fill="rgb(173,173,173)"/>
<circle cx="422.3" cy="421.0" r="0.49" fill="rgb(178,178,178)"/>
<circle cx="419.3" cy="430.5" r="0.63" fill="rgb(115,115,115)"/>
<circle cx="434.8" cy="431.1" r="0.68" fill="rgb(138,138,138)"/>
<circle cx="438.3" cy="423.5" r="0.32" fill="rgb(146,146,146)"/>
<circle cx="443.2" cy="422.1" r="0.67" fill="rgb(174,174,174)"/>
<circle cx="432.4" cy="426.7" r="0.47" fill="rgb(179,179,179)"/>
<circle cx="424.7" cy="442.7" r="0.44" fill="rgb(144,144,144)"/>
<circle cx="427.2" cy="416.1" r="0.43" fill="rgb(180,180,180)"/>
<circle cx="452.4" cy="437.2" r="0.51" fill="rgb(138,138,138)"/>
<circle cx="435.2" cy="412.8" r="0.59" fill="rgb(105,105,105)"/>
<circle cx="431.3" cy="438.1" r="0.65" fill="rgb(114,114,114)"/>
<circle cx="425.6" cy="425.6" r="0.44" fill="rgb(162,162,162)"/>
<circle cx="428.1" cy="423.0" r="0.40" fill="rgb(146,146,146)"/>
<circle cx="417.8" cy="440.0" r="0.62" fill="rgb(156,156,156)"/>
<circle cx="420.5" cy="444.0" r="0.57" fill="rgb(124,124,124)"/>
<circle cx="443.6" cy="444.2" r="0.61" fill="rgb(130,130,130)"/>
<circle cx="445.1" cy="442.5" r="0.35" fill="rgb(161,161,161)"/>
<circle cx="439.0" cy="437.9" r="0.41" fill="rgb(133,133,133)"/>
<circle cx="450.3" cy="428.1" r="0.41" fill="rgb(177,177,177)"/>
<circle cx="438.4" cy="440.2" r="0.33" fill="rgb(123,123,123)"/>
<circle cx="424.1" cy="439.3" r="0.39" fill="rgb(118,118,118)"/>
<circle cx="447.2" cy="423.7" r="0.55" fill="rgb(164,164,164)"/>
<circle cx="431.9" cy="438.1" r="0.48" fill="rgb(147,147,147)"/>
<circle cx="428.2" cy="419.1" r="0.43" fill="rgb(175,175,175)"/>
<circle cx="424.7" cy="429.3" r="0.39" fill="rgb(164,164,164)"/>
<circle cx="451.9" cy="435.3" r="0.43" fill="rgb(177,177,177)"/>
<circle cx="434.4" cy="438.0" r="0.51" fill="rgb(162,162,162)"/>
<circle cx="429.1" cy="419.5" r="0.33" fill="rgb(127,127,127)"/>
<circle cx="423.2" cy="416.6" r="0.57" fill="rgb(164,164,164)"/>
<circle cx="419.3" cy="442.8" r="0.42" fill="rgb(133,133,133)"/>
<circle cx="438.3" cy="422.8" r="0.65" fill="rgb(145,145,145)"/>
<circle cx="417.2" cy="428.8" r="0.34" fill="rgb(129,129,129)"/>
<ellipse cx="491.6" cy="431.1" rx="25.4" ry="25.0" fill="#dedede" stroke="#767676" stroke-width="2.2"/>
<ellipse cx="491.6" cy="431.1" rx="23.099999999999998" ry="22.7" fill="none" stroke="#b0b0b0" stroke-width="0.7"/>
<circle cx="502.1" cy="435.6" r="0.64" fill="rgb(182,182,182)"/>
<circle cx="481.3" cy="425.7" r="0.40" fill="rgb(197,197,197)"/>
<circle cx="494.9" cy="418.1" r="0.56" fill="rgb(189,189,189)"/>
<circle cx="471.6" cy="431.0" r="0.59" fill="rgb(195,195,195)"/>
<circle cx="483.4" cy="420.2" r="0.58" fill="rgb(185,185,185)"/>
<circle cx="485.9" cy="426.3" r="0.53" fill="rgb(195,195,195)"/>
<circle cx="490.6" cy="438.1" r="0.32" fill="rgb(183,183,183)"/>
<circle cx="506.3" cy="428.8" r="0.57" fill="rgb(135,135,135)"/>
<circle cx="495.7" cy="424.6" r="0.54" fill="rgb(140,140,140)"/>
<circle cx="490.9" cy="435.2" r="0.51" fill="rgb(194,194,194)"/>
<circle cx="504.4" cy="434.3" r="0.37" fill="rgb(179,179,179)"/>
<circle cx="485.9" cy="439.9" r="0.37" fill="rgb(192,192,192)"/>
<circle cx="496.4" cy="448.9" r="0.51" fill="rgb(131,131,131)"/>
<circle cx="492.1" cy="428.2" r="0.46" fill="rgb(134,134,134)"/>
<circle cx="480.8" cy="419.8" r="0.45" fill="rgb(170,170,170)"/>
<circle cx="483.2" cy="425.9" r="0.70" fill="rgb(193,193,193)"/>
<circle cx="503.8" cy="428.1" r="0.31" fill="rgb(167,167,167)"/>
<circle cx="500.3" cy="440.7" r="0.58" fill="rgb(165,165,165)"/>
<circle cx="487.6" cy="437.2" r="0.40" fill="rgb(145,145,145)"/>
<circle cx="490.5" cy="418.9" r="0.36" fill="rgb(185,185,185)"/>
<circle cx="494.7" cy="439.9" r="0.57" fill="rgb(207,207,207)"/>
<circle cx="491.3" cy="410.6" r="0.58" fill="rgb(187,187,187)"/>
<circle cx="497.4" cy="433.5" r="0.64" fill="rgb(187,187,187)"/>
<circle cx="485.8" cy="425.0" r="0.35" fill="rgb(180,180,180)"/>
<circle cx="499.3" cy="430.7" r="0.35" fill="rgb(157,157,157)"/>
<circle cx="504.2" cy="422.0" r="0.32" fill="rgb(138,138,138)"/>
<circle cx="500.4" cy="443.7" r="0.70" fill="rgb(202,202,202)"/>
<circle cx="495.5" cy="417.7" r="0.33" fill="rgb(138,138,138)"/>
<circle cx="481.5" cy="426.9" r="0.39" fill="rgb(131,131,131)"/>
<circle cx="506.9" cy="421.4" r="0.69" fill="rgb(164,164,164)"/>
<circle cx="490.2" cy="418.7" r="0.63" fill="rgb(140,140,140)"/>
<circle cx="500.1" cy="431.8" r="0.44" fill="rgb(130,130,130)"/>
<circle cx="499.1" cy="417.7" r="0.30" fill="rgb(200,200,200)"/>
<circle cx="487.3" cy="430.2" r="0.54" fill="rgb(200,200,200)"/>
<circle cx="479.4" cy="432.3" r="0.38" fill="rgb(201,201,201)"/>
<circle cx="487.2" cy="435.1" r="0.33" fill="rgb(145,145,145)"/>
<circle cx="477.6" cy="435.0" r="0.58" fill="rgb(164,164,164)"/>
<circle cx="502.5" cy="436.0" r="0.48" fill="rgb(161,161,161)"/>
<circle cx="485.4" cy="419.6" r="0.55" fill="rgb(184,184,184)"/>
<circle cx="483.7" cy="432.5" r="0.53" fill="rgb(134,134,134)"/>
<circle cx="492.7" cy="446.3" r="0.44" fill="rgb(192,192,192)"/>
<circle cx="498.7" cy="417.2" r="0.30" fill="rgb(137,137,137)"/>
<circle cx="504.0" cy="429.3" r="0.30" fill="rgb(148,148,148)"/>
<circle cx="499.8" cy="427.4" r="0.67" fill="rgb(180,180,180)"/>
<circle cx="498.3" cy="427.4" r="0.29" fill="rgb(190,190,190)"/>
<ellipse cx="377.3" cy="487.8" rx="26.4" ry="25.0" fill="#dedede" stroke="#767676" stroke-width="2.2"/>
<ellipse cx="377.3" cy="487.8" rx="24.099999999999998" ry="22.7" fill="none" stroke="#b0b0b0" stroke-width="0.7"/>
<circle cx="393.2" cy="499.3" r="0.36" fill="rgb(171,171,171)"/>
<circle cx="382.9" cy="496.5" r="0.61" fill="rgb(178,178,178)"/>
<circle cx="378.2" cy="487.3" r="0.51" fill="rgb(172,172,172)"/>
<circle cx="362.1" cy="487.6" r="0.62" fill="rgb(113,113,113)"/>
<circle cx="388.9" cy="491.7" r="0.45" fill="rgb(107,107,107)"/>
<circle cx="377.2" cy="484.7" r="0.62" fill="rgb(143,143,143)"/>
<circle cx="386.6" cy="496.3" r="0.46" fill="rgb(115,115,115)"/>
<circle cx="389.9" cy="486.0" r="0.32" fill="rgb(165,165,165)"/>
<circle cx="385.4" cy="477.2" r="0.43" fill="rgb(131,131,131)"/>
<circle cx="377.9" cy="480.7" r="0.69" fill="rgb(168,168,168)"/>
<circle cx="381.4" cy="488.0" r="0.57" fill="rgb(154,154,154)"/>
<circle cx="365.5" cy="486.4" r="0.54" fill="rgb(158,158,158)"/>
<circle cx="392.9" cy="479.2" r="0.66" fill="rgb(173,173,173)"/>
<circle cx="376.6" cy="484.5" r="0.64" fill="rgb(141,141,141)"/>
<circle cx="384.1" cy="481.6" r="0.47" fill="rgb(163,163,163)"/>
<circle cx="377.1" cy="496.7" r="0.42" fill="rgb(114,114,114)"/>
<circle cx="358.9" cy="494.3" r="0.67" fill="rgb(167,167,167)"/>
<circle cx="388.0" cy="471.1" r="0.40" fill="rgb(126,126,126)"/>
<circle cx="375.3" cy="489.0" r="0.65" fill="rgb(180,180,180)"/>
<circle cx="368.6" cy="503.1" r="0.65" fill="rgb(170,170,170)"/>
<circle cx="370.5" cy="486.5" r="0.41" fill="rgb(157,157,157)"/>
<circle cx="366.2" cy="499.4" r="0.35" fill="rgb(149,149,149)"/>
<circle cx="367.7" cy="475.2" r="0.45" fill="rgb(180,180,180)"/>
<circle cx="371.9" cy="474.8" r="0.37" fill="rgb(129,129,129)"/>
<circle cx="378.9" cy="486.8" r="0.58" fill="rgb(186,186,186)"/>
<circle cx="383.2" cy="499.1" r="0.57" fill="rgb(166,166,166)"/>
<circle cx="377.5" cy="480.0" r="0.29" fill="rgb(162,162,162)"/>
<circle cx="380.2" cy="498.3" r="0.55" fill="rgb(154,154,154)"/>
<circle cx="368.6" cy="475.5" r="0.41" fill="rgb(112,112,112)"/>
<circle cx="379.2" cy="488.6" r="0.34" fill="rgb(116,116,116)"/>
<circle cx="357.5" cy="488.5" r="0.39" fill="rgb(168,168,168)"/>
<circle cx="379.6" cy="492.3" r="0.45" fill="rgb(162,162,162)"/>
<circle cx="365.3" cy="491.9" r="0.67" fill="rgb(134,134,134)"/>
<circle cx="379.1" cy="484.7" r="0.38" fill="rgb(175,175,175)"/>
<circle cx="381.7" cy="475.6" r="0.28" fill="rgb(122,122,122)"/>
<circle cx="383.8" cy="483.6" r="0.53" fill="rgb(159,159,159)"/>
<circle cx="379.7" cy="492.7" r="0.69" fill="rgb(137,137,137)"/>
<circle cx="370.3" cy="478.4" r="0.31" fill="rgb(108,108,108)"/>
<circle cx="382.2" cy="481.6" r="0.43" fill="rgb(164,164,164)"/>
<circle cx="386.7" cy="498.3" r="0.43" fill="rgb(148,148,148)"/>
<circle cx="385.3" cy="494.2" r="0.40" fill="rgb(137,137,137)"/>
<circle cx="378.0" cy="480.7" r="0.37" fill="rgb(137,137,137)"/>
<circle cx="367.6" cy="498.2" r="0.65" fill="rgb(111,111,111)"/>
<circle cx="369.7" cy="475.8" r="0.29" fill="rgb(142,142,142)"/>
<circle cx="387.6" cy="496.5" r="0.32" fill="rgb(116,116,116)"/>
<circle cx="370.6" cy="488.6" r="0.46" fill="rgb(116,116,116)"/>
<circle cx="387.3" cy="492.1" r="0.67" fill="rgb(151,151,151)"/>
<circle cx="386.1" cy="491.8" r="0.52" fill="rgb(176,176,176)"/>
<circle cx="390.9" cy="484.7" r="0.68" fill="rgb(148,148,148)"/>
<circle cx="377.9" cy="496.3" r="0.37" fill="rgb(113,113,113)"/>
<circle cx="375.6" cy="504.3" r="0.59" fill="rgb(112,112,112)"/>
<circle cx="368.7" cy="490.3" r="0.56" fill="rgb(135,135,135)"/>
<circle cx="390.6" cy="499.6" r="0.36" fill="rgb(107,107,107)"/>
<circle cx="371.4" cy="479.8" r="0.48" fill="rgb(166,166,166)"/>
<circle cx="368.6" cy="485.8" r="0.53" fill="rgb(159,159,159)"/>
<circle cx="389.6" cy="502.8" r="0.59" fill="rgb(175,175,175)"/>
<circle cx="367.2" cy="498.3" r="0.38" fill="rgb(154,154,154)"/>
<circle cx="381.0" cy="485.3" r="0.30" fill="rgb(142,142,142)"/>
<circle cx="383.0" cy="494.4" r="0.52" fill="rgb(182,182,182)"/>
<circle cx="367.7" cy="494.2" r="0.68" fill="rgb(125,125,125)"/>
<ellipse cx="435.1" cy="487.8" rx="26.5" ry="25.0" fill="#dedede" stroke="#767676" stroke-width="2.2"/>
<ellipse cx="435.1" cy="487.8" rx="24.2" ry="22.7" fill="none" stroke="#b0b0b0" stroke-width="0.7"/>
<circle cx="419.2" cy="490.0" r="0.49" fill="rgb(172,172,172)"/>
<circle cx="427.9" cy="481.3" r="0.36" fill="rgb(173,173,173)"/>
<circle cx="424.8" cy="490.5" r="0.42" fill="rgb(126,126,126)"/>
<circle cx="428.6" cy="497.1" r="0.44" fill="rgb(106,106,106)"/>
<circle cx="435.2" cy="487.6" r="0.39" fill="rgb(129,129,129)"/>
<circle cx="423.1" cy="483.1" r="0.38" fill="rgb(103,103,103)"/>
<circle cx="440.9" cy="486.4" r="0.50" fill="rgb(140,140,140)"/>
<circle cx="438.0" cy="485.4" r="0.35" fill="rgb(140,140,140)"/>
<circle cx="421.7" cy="491.7" r="0.56" fill="rgb(162,162,162)"/>
<circle cx="446.3" cy="484.9" r="0.45" fill="rgb(97,97,97)"/>
<circle cx="439.1" cy="485.6" r="0.40" fill="rgb(116,116,116)"/>
<circle cx="451.4" cy="484.5" r="0.50" fill="rgb(161,161,161)"/>
<circle cx="440.4" cy="474.4" r="0.33" fill="rgb(112,112,112)"/>
<circle cx="426.2" cy="474.9" r="0.66" fill="rgb(170,170,170)"/>
<circle cx="437.2" cy="493.2" r="0.52" fill="rgb(108,108,108)"/>
<circle cx="432.2" cy="480.5" r="0.43" fill="rgb(135,135,135)"/>
<circle cx="432.6" cy="483.0" r="0.54" fill="rgb(131,131,131)"/>
<circle cx="429.1" cy="477.1" r="0.48" fill="rgb(147,147,147)"/>
<circle cx="431.9" cy="476.2" r="0.68" fill="rgb(156,156,156)"/>
<circle cx="436.7" cy="501.7" r="0.37" fill="rgb(126,126,126)"/>
<circle cx="450.1" cy="484.3" r="0.59" fill="rgb(122,122,122)"/>
<circle cx="428.2" cy="477.0" r="0.37" fill="rgb(110,110,110)"/>
<circle cx="434.8" cy="490.5" r="0.45" fill="rgb(127,127,127)"/>
<circle cx="450.2" cy="495.4" r="0.52" fill="rgb(121,121,121)"/>
<circle cx="432.2" cy="478.4" r="0.48" fill="rgb(94,94,94)"/>
<circle cx="432.0" cy="481.9" r="0.68" fill="rgb(154,154,154)"/>
<circle cx="443.2" cy="475.0" r="0.58" fill="rgb(170,170,170)"/>
<circle cx="440.0" cy="500.9" r="0.39" fill="rgb(159,159,159)"/>
<circle cx="418.9" cy="476.5" r="0.53" fill="rgb(109,109,109)"/>
<circle cx="450.0" cy="489.1" r="0.39" fill="rgb(99,99,99)"/>
<circle cx="443.5" cy="488.0" r="0.28" fill="rgb(111,111,111)"/>
<circle cx="433.3" cy="505.9" r="0.29" fill="rgb(102,102,102)"/>
<circle cx="449.1" cy="482.0" r="0.42" fill="rgb(135,135,135)"/>
<circle cx="430.0" cy="498.0" r="0.39" fill="rgb(97,97,97)"/>
<circle cx="440.3" cy="490.7" r="0.54" fill="rgb(149,149,149)"/>
<circle cx="433.6" cy="505.0" r="0.42" fill="rgb(132,132,132)"/>
<circle cx="442.0" cy="503.9" r="0.30" fill="rgb(105,105,105)"/>
<circle cx="430.6" cy="476.6" r="0.38" fill="rgb(157,157,157)"/>
<circle cx="437.0" cy="482.5" r="0.36" fill="rgb(150,150,150)"/>
<circle cx="439.9" cy="474.9" r="0.32" fill="rgb(146,146,146)"/>
<circle cx="429.7" cy="485.6" r="0.52" fill="rgb(102,102,102)"/>
<circle cx="429.7" cy="482.1" r="0.46" fill="rgb(136,136,136)"/>
<circle cx="434.5" cy="484.4" r="0.37" fill="rgb(116,116,116)"/>
<circle cx="424.7" cy="476.0" r="0.66" fill="rgb(109,109,109)"/>
<circle cx="430.1" cy="499.6" r="0.35" fill="rgb(111,111,111)"/>
<circle cx="437.6" cy="470.4" r="0.68" fill="rgb(157,157,157)"/>
<circle cx="430.9" cy="497.9" r="0.30" fill="rgb(142,142,142)"/>
<circle cx="438.6" cy="489.9" r="0.34" fill="rgb(168,168,168)"/>
<circle cx="442.9" cy="480.7" r="0.33" fill="rgb(134,134,134)"/>
<circle cx="422.9" cy="486.2" r="0.50" fill="rgb(155,155,155)"/>
<circle cx="438.8" cy="490.5" r="0.48" fill="rgb(113,113,113)"/>
<circle cx="431.2" cy="481.2" r="0.48" fill="rgb(150,150,150)"/>
<circle cx="436.5" cy="477.5" r="0.67" fill="rgb(168,168,168)"/>
<circle cx="430.8" cy="484.0" r="0.55" fill="rgb(115,115,115)"/>
<circle cx="456.4" cy="492.6" r="0.33" fill="rgb(130,130,130)"/>
<circle cx="429.2" cy="482.6" r="0.60" fill="rgb(155,155,155)"/>
<circle cx="430.3" cy="489.7" r="0.32" fill="rgb(170,170,170)"/>
<circle cx="445.7" cy="491.2" r="0.34" fill="rgb(102,102,102)"/>
<circle cx="442.0" cy="490.9" r="0.63" fill="rgb(107,107,107)"/>
<circle cx="442.3" cy="500.9" r="0.42" fill="rgb(103,103,103)"/>
<circle cx="435.8" cy="502.0" r="0.39" fill="rgb(152,152,152)"/>
<circle cx="448.6" cy="477.4" r="0.68" fill="rgb(141,141,141)"/>
<circle cx="431.7" cy="500.6" r="0.59" fill="rgb(103,103,103)"/>
<circle cx="440.2" cy="500.9" r="0.62" fill="rgb(120,120,120)"/>
<circle cx="435.2" cy="496.5" r="0.70" fill="rgb(105,105,105)"/>
<circle cx="440.5" cy="481.1" r="0.59" fill="rgb(120,120,120)"/>
<circle cx="440.4" cy="499.9" r="0.64" fill="rgb(139,139,139)"/>
<circle cx="452.1" cy="488.9" r="0.66" fill="rgb(169,169,169)"/>
<circle cx="425.9" cy="504.2" r="0.39" fill="rgb(122,122,122)"/>
<circle cx="427.8" cy="494.8" r="0.33" fill="rgb(111,111,111)"/>
<circle cx="445.8" cy="481.4" r="0.65" fill="rgb(153,153,153)"/>
<circle cx="435.8" cy="507.0" r="0.70" fill="rgb(151,151,151)"/>
<circle cx="435.5" cy="473.8" r="0.56" fill="rgb(123,123,123)"/>
<circle cx="438.8" cy="482.3" r="0.42" fill="rgb(159,159,159)"/>
<circle cx="423.9" cy="503.3" r="0.65" fill="rgb(104,104,104)"/>
<circle cx="451.2" cy="481.6" r="0.55" fill="rgb(97,97,97)"/>
<circle cx="444.3" cy="478.5" r="0.42" fill="rgb(156,156,156)"/>
<circle cx="438.1" cy="473.9" r="0.42" fill="rgb(113,113,113)"/>
<circle cx="441.8" cy="492.4" r="0.61" fill="rgb(111,111,111)"/>
<circle cx="440.0" cy="490.0" r="0.36" fill="rgb(130,130,130)"/>
<circle cx="418.6" cy="498.8" r="0.41" fill="rgb(144,144,144)"/>
<circle cx="447.0" cy="479.0" r="0.59" fill="rgb(118,118,118)"/>
<circle cx="443.1" cy="480.1" r="0.53" fill="rgb(159,159,159)"/>
<circle cx="422.8" cy="486.4" r="0.65" fill="rgb(146,146,146)"/>
<circle cx="437.8" cy="497.3" r="0.68" fill="rgb(149,149,149)"/>
<circle cx="444.9" cy="497.1" r="0.53" fill="rgb(128,128,128)"/>
<circle cx="433.1" cy="478.7" r="0.50" fill="rgb(159,159,159)"/>
<circle cx="437.4" cy="479.0" r="0.59" fill="rgb(157,157,157)"/>
<circle cx="439.3" cy="507.7" r="0.46" fill="rgb(123,123,123)"/>
<circle cx="431.3" cy="473.7" r="0.41" fill="rgb(119,119,119)"/>
<circle cx="434.2" cy="480.1" r="0.49" fill="rgb(146,146,146)"/>
<circle cx="449.0" cy="504.4" r="0.52" fill="rgb(157,157,157)"/>
<circle cx="442.5" cy="503.5" r="0.60" fill="rgb(162,162,162)"/>
<circle cx="425.2" cy="498.9" r="0.29" fill="rgb(133,133,133)"/>
<circle cx="452.3" cy="475.8" r="0.49" fill="rgb(168,168,168)"/>
<circle cx="428.2" cy="485.2" r="0.62" fill="rgb(127,127,127)"/>
<circle cx="428.3" cy="483.0" r="0.46" fill="rgb(134,134,134)"/>
<circle cx="430.9" cy="488.6" r="0.42" fill="rgb(150,150,150)"/>
<circle cx="435.0" cy="480.2" r="0.50" fill="rgb(107,107,107)"/>
<circle cx="423.0" cy="479.2" r="0.53" fill="rgb(151,151,151)"/>
<circle cx="435.0" cy="471.5" r="0.39" fill="rgb(160,160,160)"/>
<circle cx="439.7" cy="485.6" r="0.47" fill="rgb(100,100,100)"/>
<circle cx="451.4" cy="495.0" r="0.34" fill="rgb(130,130,130)"/>
<circle cx="424.1" cy="475.4" r="0.60" fill="rgb(113,113,113)"/>
<circle cx="437.4" cy="494.2" r="0.54" fill="rgb(117,117,117)"/>
<circle cx="438.8" cy="493.4" r="0.36" fill="rgb(118,118,118)"/>
<circle cx="427.2" cy="487.6" r="0.46" fill="rgb(171,171,171)"/>
<circle cx="417.4" cy="489.3" r="0.36" fill="rgb(140,140,140)"/>
<circle cx="438.9" cy="492.4" r="0.57" fill="rgb(170,170,170)"/>
<circle cx="426.3" cy="493.5" r="0.43" fill="rgb(148,148,148)"/>
<circle cx="428.5" cy="492.8" r="0.52" fill="rgb(94,94,94)"/>
<circle cx="443.7" cy="476.5" r="0.54" fill="rgb(167,167,167)"/>
<circle cx="426.1" cy="493.9" r="0.51" fill="rgb(146,146,146)"/>
<circle cx="433.7" cy="473.6" r="0.43" fill="rgb(161,161,161)"/>
<circle cx="439.0" cy="473.7" r="0.42" fill="rgb(169,169,169)"/>
<circle cx="425.6" cy="484.9" r="0.33" fill="rgb(165,165,165)"/>
<circle cx="436.0" cy="485.3" r="0.48" fill="rgb(133,133,133)"/>
<circle cx="424.4" cy="499.5" r="0.50" fill="rgb(167,167,167)"/>
<circle cx="427.5" cy="479.2" r="0.44" fill="rgb(142,142,142)"/>
<circle cx="437.1" cy="479.6" r="0.44" fill="rgb(122,122,122)"/>
<ellipse cx="491.6" cy="487.8" rx="25.4" ry="25.0" fill="#dedede" stroke="#767676" stroke-width="2.2"/>
<ellipse cx="491.6" cy="487.8" rx="23.099999999999998" ry="22.7" fill="none" stroke="#b0b0b0" stroke-width="0.7"/>
<circle cx="501.6" cy="481.8" r="0.42" fill="rgb(172,172,172)"/>
<circle cx="497.7" cy="497.4" r="0.36" fill="rgb(111,111,111)"/>
<circle cx="493.6" cy="482.3" r="0.30" fill="rgb(128,128,128)"/>
<circle cx="489.7" cy="470.1" r="0.68" fill="rgb(151,151,151)"/>
<circle cx="497.2" cy="484.8" r="0.46" fill="rgb(122,122,122)"/>
<circle cx="491.4" cy="472.4" r="0.32" fill="rgb(176,176,176)"/>
<circle cx="492.0" cy="471.2" r="0.30" fill="rgb(111,111,111)"/>
<circle cx="493.7" cy="489.8" r="0.54" fill="rgb(115,115,115)"/>
<circle cx="495.8" cy="494.5" r="0.56" fill="rgb(184,184,184)"/>
<circle cx="480.7" cy="500.7" r="0.44" fill="rgb(127,127,127)"/>
<circle cx="494.0" cy="509.0" r="0.58" fill="rgb(121,121,121)"/>
<circle cx="494.4" cy="493.6" r="0.59" fill="rgb(111,111,111)"/>
<circle cx="480.3" cy="485.7" r="0.46" fill="rgb(170,170,170)"/>
<circle cx="479.0" cy="481.4" r="0.53" fill="rgb(133,133,133)"/>
<circle cx="475.5" cy="499.9" r="0.66" fill="rgb(151,151,151)"/>
<circle cx="496.0" cy="493.2" r="0.57" fill="rgb(107,107,107)"/>
<circle cx="496.7" cy="473.0" r="0.28" fill="rgb(170,170,170)"/>
<circle cx="478.7" cy="495.4" r="0.59" fill="rgb(139,139,139)"/>
<circle cx="511.9" cy="482.7" r="0.54" fill="rgb(132,132,132)"/>
<circle cx="483.7" cy="495.4" r="0.61" fill="rgb(170,170,170)"/>
<circle cx="500.0" cy="470.7" r="0.41" fill="rgb(167,167,167)"/>
<circle cx="490.7" cy="499.3" r="0.64" fill="rgb(146,146,146)"/>
<circle cx="489.4" cy="501.2" r="0.67" fill="rgb(167,167,167)"/>
<circle cx="501.1" cy="500.6" r="0.66" fill="rgb(153,153,153)"/>
<circle cx="479.1" cy="493.8" r="0.61" fill="rgb(115,115,115)"/>
<circle cx="490.4" cy="494.7" r="0.47" fill="rgb(165,165,165)"/>
<circle cx="490.9" cy="503.8" r="0.32" fill="rgb(146,146,146)"/>
<circle cx="490.0" cy="479.2" r="0.40" fill="rgb(136,136,136)"/>
<circle cx="510.3" cy="477.7" r="0.46" fill="rgb(152,152,152)"/>
<circle cx="497.1" cy="473.8" r="0.64" fill="rgb(139,139,139)"/>
<circle cx="501.2" cy="484.7" r="0.59" fill="rgb(118,118,118)"/>
<circle cx="489.4" cy="483.3" r="0.51" fill="rgb(166,166,166)"/>
<circle cx="500.7" cy="497.5" r="0.38" fill="rgb(172,172,172)"/>
<circle cx="501.3" cy="489.8" r="0.64" fill="rgb(178,178,178)"/>
<circle cx="503.3" cy="490.3" r="0.58" fill="rgb(165,165,165)"/>
<circle cx="483.5" cy="499.8" r="0.34" fill="rgb(172,172,172)"/>
<circle cx="497.2" cy="493.0" r="0.42" fill="rgb(120,120,120)"/>
<circle cx="504.2" cy="482.0" r="0.39" fill="rgb(180,180,180)"/>
<circle cx="494.8" cy="505.1" r="0.69" fill="rgb(168,168,168)"/>
<circle cx="481.3" cy="476.9" r="0.47" fill="rgb(114,114,114)"/>
<circle cx="506.5" cy="479.0" r="0.59" fill="rgb(125,125,125)"/>
<circle cx="472.5" cy="492.2" r="0.67" fill="rgb(119,119,119)"/>
<circle cx="486.5" cy="476.4" r="0.35" fill="rgb(117,117,117)"/>
<circle cx="480.6" cy="489.8" r="0.43" fill="rgb(151,151,151)"/>
<circle cx="492.5" cy="476.5" r="0.65" fill="rgb(136,136,136)"/>
<circle cx="505.8" cy="484.2" r="0.52" fill="rgb(184,184,184)"/>
<circle cx="482.6" cy="495.6" r="0.29" fill="rgb(123,123,123)"/>
<circle cx="498.8" cy="494.8" r="0.52" fill="rgb(182,182,182)"/>
<circle cx="486.5" cy="476.0" r="0.55" fill="rgb(150,150,150)"/>
<circle cx="500.5" cy="477.6" r="0.53" fill="rgb(131,131,131)"/>
<circle cx="502.2" cy="485.8" r="0.31" fill="rgb(107,107,107)"/>
<circle cx="483.9" cy="485.2" r="0.33" fill="rgb(173,173,173)"/>
<circle cx="483.0" cy="472.6" r="0.70" fill="rgb(161,161,161)"/>
<circle cx="491.5" cy="487.2" r="0.46" fill="rgb(184,184,184)"/>
<circle cx="487.6" cy="497.2" r="0.45" fill="rgb(179,179,179)"/>
<circle cx="481.0" cy="481.2" r="0.37" fill="rgb(121,121,121)"/>
<circle cx="495.0" cy="481.9" r="0.39" fill="rgb(177,177,177)"/>
<circle cx="479.3" cy="486.6" r="0.45" fill="rgb(162,162,162)"/>
<circle cx="509.8" cy="495.8" r="0.33" fill="rgb(166,166,166)"/>
<circle cx="490.8" cy="494.1" r="0.56" fill="rgb(183,183,183)"/>
<ellipse cx="377.3" cy="543.8" rx="26.4" ry="25.0" fill="#dedede" stroke="#767676" stroke-width="2.2"/>
<ellipse cx="377.3" cy="543.8" rx="24.099999999999998" ry="22.7" fill="none" stroke="#b0b0b0" stroke-width="0.7"/>
<circle cx="396.8" cy="543.1" r="0.55" fill="rgb(119,119,119)"/>
<circle cx="375.4" cy="531.8" r="0.66" fill="rgb(127,127,127)"/>
<circle cx="381.2" cy="548.3" r="0.53" fill="rgb(171,171,171)"/>
<circle cx="384.6" cy="554.7" r="0.52" fill="rgb(140,140,140)"/>
<circle cx="375.6" cy="543.3" r="0.46" fill="rgb(125,125,125)"/>
<circle cx="377.7" cy="533.9" r="0.38" fill="rgb(114,114,114)"/>
<circle cx="366.8" cy="545.2" r="0.60" fill="rgb(124,124,124)"/>
<circle cx="369.3" cy="530.1" r="0.49" fill="rgb(180,180,180)"/>
<circle cx="372.3" cy="540.2" r="0.31" fill="rgb(133,133,133)"/>
<circle cx="389.5" cy="551.0" r="0.41" fill="rgb(147,147,147)"/>
<circle cx="384.4" cy="541.0" r="0.41" fill="rgb(132,132,132)"/>
<circle cx="390.0" cy="536.2" r="0.35" fill="rgb(110,110,110)"/>
<circle cx="390.4" cy="555.8" r="0.35" fill="rgb(157,157,157)"/>
<circle cx="388.6" cy="547.9" r="0.32" fill="rgb(166,166,166)"/>
<circle cx="375.0" cy="533.4" r="0.56" fill="rgb(141,141,141)"/>
<circle cx="373.8" cy="538.4" r="0.28" fill="rgb(124,124,124)"/>
<circle cx="372.0" cy="547.6" r="0.57" fill="rgb(186,186,186)"/>
<circle cx="372.1" cy="552.2" r="0.37" fill="rgb(139,139,139)"/>
<circle cx="373.5" cy="534.9" r="0.31" fill="rgb(150,150,150)"/>
<circle cx="391.7" cy="543.0" r="0.49" fill="rgb(146,146,146)"/>
<circle cx="382.5" cy="557.3" r="0.62" fill="rgb(130,130,130)"/>
<circle cx="392.4" cy="537.5" r="0.34" fill="rgb(145,145,145)"/>
<circle cx="389.0" cy="555.2" r="0.52" fill="rgb(185,185,185)"/>
<circle cx="394.4" cy="548.5" r="0.33" fill="rgb(132,132,132)"/>
<circle cx="392.0" cy="548.7" r="0.43" fill="rgb(162,162,162)"/>
<circle cx="367.9" cy="553.7" r="0.69" fill="rgb(142,142,142)"/>
<circle cx="383.5" cy="543.9" r="0.64" fill="rgb(157,157,157)"/>
<circle cx="388.0" cy="558.8" r="0.33" fill="rgb(137,137,137)"/>
<circle cx="376.9" cy="543.1" r="0.43" fill="rgb(176,176,176)"/>
<circle cx="389.7" cy="543.5" r="0.61" fill="rgb(176,176,176)"/>
<circle cx="360.8" cy="534.1" r="0.68" fill="rgb(152,152,152)"/>
<circle cx="381.7" cy="555.6" r="0.42" fill="rgb(136,136,136)"/>
<circle cx="365.0" cy="543.0" r="0.40" fill="rgb(147,147,147)"/>
<circle cx="364.4" cy="543.5" r="0.36" fill="rgb(149,149,149)"/>
<circle cx="374.4" cy="560.5" r="0.61" fill="rgb(148,148,148)"/>
<circle cx="377.4" cy="560.8" r="0.44" fill="rgb(130,130,130)"/>
<circle cx="362.7" cy="553.6" r="0.48" fill="rgb(165,165,165)"/>
<circle cx="380.0" cy="554.5" r="0.41" fill="rgb(135,135,135)"/>
<circle cx="377.7" cy="530.8" r="0.38" fill="rgb(169,169,169)"/>
<circle cx="368.2" cy="531.1" r="0.57" fill="rgb(128,128,128)"/>
<ellipse cx="435.1" cy="543.8" rx="26.5" ry="25.0" fill="#dedede" stroke="#767676" stroke-width="2.2"/>
<ellipse cx="435.1" cy="543.8" rx="24.2" ry="22.7" fill="none" stroke="#b0b0b0" stroke-width="0.7"/>
<circle cx="443.2" cy="546.9" r="0.68" fill="rgb(153,153,153)"/>
<circle cx="425.1" cy="526.5" r="0.38" fill="rgb(138,138,138)"/>
<circle cx="449.4" cy="554.8" r="0.48" fill="rgb(141,141,141)"/>
<circle cx="433.3" cy="557.2" r="0.66" fill="rgb(179,179,179)"/>
<circle cx="443.1" cy="535.5" r="0.41" fill="rgb(189,189,189)"/>
<circle cx="437.8" cy="549.5" r="0.67" fill="rgb(179,179,179)"/>
<circle cx="425.2" cy="560.5" r="0.46" fill="rgb(126,126,126)"/>
<circle cx="436.4" cy="535.1" r="0.66" fill="rgb(146,146,146)"/>
<circle cx="425.0" cy="551.0" r="0.29" fill="rgb(142,142,142)"/>
<circle cx="433.8" cy="545.0" r="0.60" fill="rgb(138,138,138)"/>
<circle cx="429.7" cy="533.1" r="0.29" fill="rgb(165,165,165)"/>
<circle cx="428.5" cy="538.6" r="0.64" fill="rgb(184,184,184)"/>
<circle cx="436.6" cy="557.6" r="0.42" fill="rgb(114,114,114)"/>
<circle cx="428.0" cy="556.9" r="0.49" fill="rgb(121,121,121)"/>
<circle cx="437.4" cy="553.0" r="0.43" fill="rgb(183,183,183)"/>
<circle cx="447.2" cy="554.0" r="0.64" fill="rgb(130,130,130)"/>
<circle cx="427.5" cy="539.4" r="0.61" fill="rgb(176,176,176)"/>
<circle cx="433.2" cy="559.0" r="0.69" fill="rgb(115,115,115)"/>
<circle cx="428.2" cy="549.9" r="0.61" fill="rgb(178,178,178)"/>
<circle cx="422.5" cy="540.1" r="0.32" fill="rgb(132,132,132)"/>
<circle cx="435.4" cy="529.5" r="0.32" fill="rgb(148,148,148)"/>
<circle cx="435.3" cy="544.4" r="0.32" fill="rgb(141,141,141)"/>
<circle cx="424.2" cy="548.4" r="0.57" fill="rgb(152,152,152)"/>
<circle cx="442.7" cy="543.0" r="0.49" fill="rgb(141,141,141)"/>
<circle cx="441.5" cy="536.6" r="0.43" fill="rgb(138,138,138)"/>
<circle cx="425.7" cy="536.0" r="0.32" fill="rgb(187,187,187)"/>
<circle cx="430.5" cy="548.5" r="0.50" fill="rgb(137,137,137)"/>
<circle cx="427.6" cy="556.9" r="0.46" fill="rgb(188,188,188)"/>
<circle cx="428.7" cy="551.0" r="0.56" fill="rgb(164,164,164)"/>
<circle cx="425.3" cy="547.0" r="0.61" fill="rgb(148,148,148)"/>
<circle cx="441.3" cy="533.4" r="0.29" fill="rgb(129,129,129)"/>
<circle cx="451.2" cy="540.0" r="0.49" fill="rgb(149,149,149)"/>
<circle cx="437.8" cy="551.2" r="0.57" fill="rgb(132,132,132)"/>
<circle cx="430.7" cy="538.4" r="0.35" fill="rgb(152,152,152)"/>
<circle cx="430.6" cy="553.7" r="0.48" fill="rgb(160,160,160)"/>
<circle cx="442.5" cy="551.7" r="0.51" fill="rgb(160,160,160)"/>
<circle cx="437.4" cy="532.5" r="0.47" fill="rgb(177,177,177)"/>
<circle cx="421.3" cy="538.0" r="0.47" fill="rgb(189,189,189)"/>
<circle cx="440.5" cy="533.4" r="0.54" fill="rgb(114,114,114)"/>
<circle cx="453.6" cy="536.1" r="0.39" fill="rgb(179,179,179)"/>
<circle cx="442.6" cy="558.3" r="0.29" fill="rgb(182,182,182)"/>
<circle cx="418.0" cy="550.2" r="0.50" fill="rgb(180,180,180)"/>
<circle cx="439.8" cy="558.5" r="0.29" fill="rgb(138,138,138)"/>
<circle cx="439.9" cy="545.8" r="0.33" fill="rgb(124,124,124)"/>
<circle cx="432.0" cy="554.5" r="0.66" fill="rgb(181,181,181)"/>
<circle cx="449.1" cy="543.0" r="0.40" fill="rgb(185,185,185)"/>
<circle cx="440.3" cy="531.6" r="0.32" fill="rgb(185,185,185)"/>
<circle cx="419.0" cy="538.6" r="0.34" fill="rgb(167,167,167)"/>
<circle cx="419.4" cy="547.2" r="0.36" fill="rgb(188,188,188)"/>
<circle cx="431.5" cy="561.0" r="0.38" fill="rgb(167,167,167)"/>
<ellipse cx="491.6" cy="543.8" rx="25.4" ry="25.0" fill="#dedede" stroke="#767676" stroke-width="2.2"/>
<ellipse cx="491.6" cy="543.8" rx="23.099999999999998" ry="22.7" fill="none" stroke="#b0b0b0" stroke-width="0.7"/>
<circle cx="485.8" cy="548.2" r="0.68" fill="rgb(131,131,131)"/>
<circle cx="481.8" cy="543.2" r="0.60" fill="rgb(162,162,162)"/>
<circle cx="498.1" cy="537.4" r="0.43" fill="rgb(161,161,161)"/>
<circle cx="485.3" cy="534.3" r="0.34" fill="rgb(175,175,175)"/>
<circle cx="477.4" cy="546.3" r="0.36" fill="rgb(160,160,160)"/>
<circle cx="483.7" cy="554.0" r="0.40" fill="rgb(153,153,153)"/>
<circle cx="480.3" cy="545.0" r="0.37" fill="rgb(137,137,137)"/>
<circle cx="505.7" cy="544.0" r="0.63" fill="rgb(146,146,146)"/>
<circle cx="482.3" cy="537.0" r="0.61" fill="rgb(125,125,125)"/>
<circle cx="502.7" cy="531.0" r="0.62" fill="rgb(137,137,137)"/>
<circle cx="484.7" cy="530.8" r="0.32" fill="rgb(135,135,135)"/>
<circle cx="485.6" cy="543.4" r="0.64" fill="rgb(133,133,133)"/>
<circle cx="496.3" cy="550.1" r="0.36" fill="rgb(140,140,140)"/>
<circle cx="480.1" cy="541.1" r="0.63" fill="rgb(103,103,103)"/>
<circle cx="497.2" cy="541.2" r="0.60" fill="rgb(148,148,148)"/>
<circle cx="482.5" cy="541.6" r="0.41" fill="rgb(160,160,160)"/>
<circle cx="493.6" cy="557.9" r="0.44" fill="rgb(140,140,140)"/>
<circle cx="505.9" cy="549.9" r="0.34" fill="rgb(146,146,146)"/>
<circle cx="490.9" cy="537.4" r="0.65" fill="rgb(106,106,106)"/>
<circle cx="491.6" cy="548.3" r="0.32" fill="rgb(141,141,141)"/>
<circle cx="491.6" cy="553.2" r="0.44" fill="rgb(165,165,165)"/>
<circle cx="490.7" cy="538.7" r="0.28" fill="rgb(128,128,128)"/>
<circle cx="504.7" cy="554.2" r="0.70" fill="rgb(119,119,119)"/>
<circle cx="506.1" cy="547.1" r="0.67" fill="rgb(133,133,133)"/>
<circle cx="489.4" cy="549.1" r="0.50" fill="rgb(137,137,137)"/>
<circle cx="474.9" cy="550.6" r="0.48" fill="rgb(116,116,116)"/>
<circle cx="478.2" cy="552.6" r="0.56" fill="rgb(147,147,147)"/>
<circle cx="480.1" cy="546.6" r="0.51" fill="rgb(171,171,171)"/>
<circle cx="502.8" cy="549.8" r="0.69" fill="rgb(103,103,103)"/>
<circle cx="480.1" cy="532.2" r="0.48" fill="rgb(112,112,112)"/>
<circle cx="486.4" cy="559.4" r="0.37" fill="rgb(153,153,153)"/>
<circle cx="485.4" cy="534.6" r="0.47" fill="rgb(128,128,128)"/>
<circle cx="484.6" cy="539.0" r="0.56" fill="rgb(125,125,125)"/>
<circle cx="494.1" cy="534.2" r="0.62" fill="rgb(111,111,111)"/>
<circle cx="490.9" cy="538.3" r="0.29" fill="rgb(160,160,160)"/>
<circle cx="486.7" cy="549.0" r="0.49" fill="rgb(135,135,135)"/>
<circle cx="500.0" cy="551.8" r="0.69" fill="rgb(133,133,133)"/>
<circle cx="482.1" cy="547.8" r="0.42" fill="rgb(154,154,154)"/>
<circle cx="497.8" cy="533.1" r="0.40" fill="rgb(111,111,111)"/>
<circle cx="505.1" cy="547.4" r="0.37" fill="rgb(137,137,137)"/>
<circle cx="492.2" cy="536.1" r="0.50" fill="rgb(136,136,136)"/>
<circle cx="505.3" cy="538.3" r="0.52" fill="rgb(135,135,135)"/>
<circle cx="505.5" cy="546.8" r="0.41" fill="rgb(149,149,149)"/>
<circle cx="490.3" cy="538.7" r="0.33" fill="rgb(126,126,126)"/>
<circle cx="491.1" cy="541.6" r="0.33" fill="rgb(140,140,140)"/>
<circle cx="497.6" cy="544.4" r="0.31" fill="rgb(109,109,109)"/>
<circle cx="495.2" cy="553.6" r="0.62" fill="rgb(135,135,135)"/>
<circle cx="491.5" cy="553.8" r="0.30" fill="rgb(161,161,161)"/>
<circle cx="505.2" cy="553.2" r="0.53" fill="rgb(171,171,171)"/>
<circle cx="495.6" cy="546.7" r="0.53" fill="rgb(160,160,160)"/>
<circle cx="489.7" cy="554.2" r="0.46" fill="rgb(125,125,125)"/>
<circle cx="484.1" cy="539.4" r="0.55" fill="rgb(109,109,109)"/>
<circle cx="495.1" cy="533.6" r="0.33" fill="rgb(143,143,143)"/>
<circle cx="477.4" cy="543.5" r="0.45" fill="rgb(173,173,173)"/>
<circle cx="488.5" cy="564.2" r="0.70" fill="rgb(177,177,177)"/>
<circle cx="490.8" cy="560.5" r="0.37" fill="rgb(182,182,182)"/>
<circle cx="481.7" cy="530.8" r="0.31" fill="rgb(171,171,171)"/>
<circle cx="495.9" cy="552.2" r="0.36" fill="rgb(139,139,139)"/>
<circle cx="490.3" cy="538.1" r="0.32" fill="rgb(140,140,140)"/>
<circle cx="484.7" cy="534.6" r="0.36" fill="rgb(179,179,179)"/>
<rect x="404.40000000000003" y="375.8" width="2.6" height="0.8" fill="#8a8a8a"/>
<rect x="462.2" y="375.8" width="2.6" height="0.8" fill="#8a8a8a"/>
<rect x="404.40000000000003" y="430.70000000000005" width="2.6" height="0.8" fill="#8a8a8a"/>
<rect x="462.2" y="430.70000000000005" width="2.6" height="0.8" fill="#8a8a8a"/>
<rect x="404.40000000000003" y="487.40000000000003" width="2.6" height="0.8" fill="#8a8a8a"/>
<rect x="462.2" y="487.40000000000003" width="2.6" height="0.8" fill="#8a8a8a"/>
<rect x="404.40000000000003" y="543.4" width="2.6" height="0.8" fill="#8a8a8a"/>
<rect x="462.2" y="543.4" width="2.6" height="0.8" fill="#8a8a8a"/>
<rect x="406.1" y="350.2" width="1.8" height="6.5" fill="#4a4a4a"/>
<rect x="406.1" y="450.0" width="1.8" height="17" fill="#555"/>
<rect x="406.1" y="563.5" width="1.8" height="7.5" fill="#4a4a4a"/>
<rect x="461.70000000000005" y="350.2" width="1.8" height="6.5" fill="#4a4a4a"/>
<rect x="461.70000000000005" y="450.0" width="1.8" height="17" fill="#555"/>
<rect x="461.70000000000005" y="563.5" width="1.8" height="7.5" fill="#4a4a4a"/>
<rect x="350" y="402.0" width="7" height="1.1" fill="#555"/>
<rect x="350" y="513.4" width="6" height="2.6" fill="#666"/>
<rect x="512" y="402.0" width="7" height="1.0" fill="#666"/>
<rect x="512" y="513.6" width="7" height="1.0" fill="#666"/>
</g>
<path d="M154.90 25.80 L172.60 36.10 L172.60 56.80 L154.90 67.40 L137.00 56.90 L137.00 36.30 Z" fill="none" stroke="#1a1a1a" stroke-width="0.95" stroke-linejoin="round" stroke-linecap="round"/>
<path d="M140.45 37.29 L154.06 29.31" fill="none" stroke="#1a1a1a" stroke-width="0.95" stroke-linejoin="round" stroke-linecap="round"/>
<path d="M170.00 38.59 L170.00 54.32" fill="none" stroke="#1a1a1a" stroke-width="0.95" stroke-linejoin="round" stroke-linecap="round"/>
<path d="M154.04 63.88 L140.44 55.90" fill="none" stroke="#1a1a1a" stroke-width="0.95" stroke-linejoin="round" stroke-linecap="round"/>
<path d="M172.60 36.10 L191.30 25.00 L191.30 4.20" fill="none" stroke="#1a1a1a" stroke-width="0.95" stroke-linejoin="round" stroke-linecap="round"/>
<path d="M191.30 25.00 L212.00 31.30" fill="none" stroke="#1a1a1a" stroke-width="0.95" stroke-linejoin="round" stroke-linecap="round"/>
<path d="M154.90 67.40 L155.00 88.50 L137.20 98.80 L119.30 88.50 L119.30 67.70 L137.00 56.90" fill="none" stroke="#1a1a1a" stroke-width="0.95" stroke-linejoin="round" stroke-linecap="round"/>
<path d="M119.30 67.70 L101.20 57.30 L83.10 67.70 L83.10 88.50 L101.20 98.80 L119.30 88.50" fill="none" stroke="#1a1a1a" stroke-width="0.95" stroke-linejoin="round" stroke-linecap="round"/>
<path d="M119.3 67.7 L117.8 50.6 L120.8 50.6 Z" fill="#1a1a1a"/>
<path d="M101.2 98.8 L85.0 106.6 L86.3 109.2 Z" fill="#1a1a1a"/>
<path d="M119.30 88.50 L119.30 104.30" fill="none" stroke="#1a1a1a" stroke-width="0.95" stroke-linejoin="round" stroke-linecap="round"/>
<path d="M101.20 98.80 L101.20 119.60 L87.00 127.60" fill="none" stroke="#1a1a1a" stroke-width="0.95" stroke-linejoin="round" stroke-linecap="round"/>
<text x="117.00" y="49.00" font-size="6.6" text-anchor="start">Me</text>
<text x="75.00" y="111.20" font-size="6.6" text-anchor="start">Me</text>
<text x="119.30" y="111.60" font-size="6.6" text-anchor="middle">H</text>
<text x="72.60" y="132.40" font-size="6.6" text-anchor="start">H<tspan dy="1.3" font-size="4.6">2</tspan><tspan dy="-1.3">N</tspan></text>
<text x="120.90" y="72.00" font-size="4.4" text-anchor="start">(S)</text>
<text x="97.90" y="96.40" font-size="4.4" text-anchor="start">(R)</text>
<text x="164.20" y="126.60" font-size="11.2" text-anchor="start">Leelamine (LLM)</text>
</svg></body></html>
